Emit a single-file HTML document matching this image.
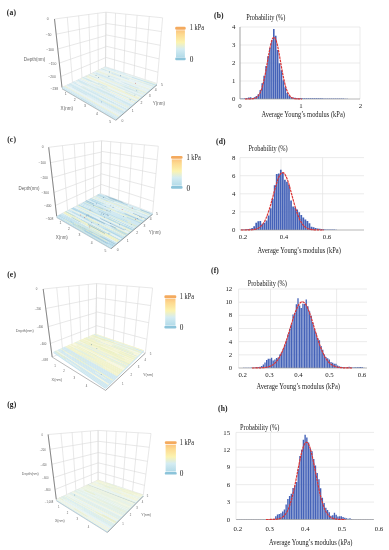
<!DOCTYPE html>
<html><head><meta charset="utf-8"><style>
html,body{margin:0;padding:0;background:#fff;}
body{width:389px;height:550px;overflow:hidden;}
svg{display:block;filter:blur(0.45px);}
</style></head><body>
<svg width="389" height="550" viewBox="0 0 389 550">
<rect width="389" height="550" fill="#fff"/>
<text x="6.8" y="14.8" font-family="Liberation Serif, Times New Roman, serif" font-weight="bold" font-size="7.6" letter-spacing="0.15" fill="#1a1a1a">(a)</text>
<path d="M54.5,19L62,87.5 M67.32,17.31L72.51,82.5 M78.66,15.81L81.98,77.99 M88.77,14.48L90.56,73.91 M97.83,13.28L98.37,70.2 M106,12.2L105.5,66.8 M54.5,19L106,12.2 M56.16,34.2L105.89,23.95 M57.78,49L105.79,35.58 M59.33,63.1L105.68,46.85 M60.8,76.5L105.58,57.74 M62,87.5L105.5,66.8 M106,12.2L105.5,66.8 M115.54,13.14L114.3,69.66 M125.86,14.17L123.77,72.73 M137.07,15.27L133.98,76.04 M149.26,16.48L145.02,79.62 M162.6,17.8L157,83.5 M106,12.2L162.6,17.8 M105.9,23.43L161.43,31.5 M105.79,34.83L160.26,45.29 M105.69,46.13L159.1,58.88 M105.59,57.3L157.96,72.23 M105.5,66.8L157,83.5" stroke="#d9d9d9" stroke-width="0.6" fill="none"/>
<polygon points="62,87.5 115.8,119 116.91,118.04 63.08,86.98" fill="#cde7ef"/>
<polygon points="62.86,87.09 116.69,118.24 117.79,117.29 63.94,86.58" fill="#d9ecf2"/>
<polygon points="63.72,86.68 117.56,117.48 118.65,116.55 64.78,86.18" fill="#d9ecf2"/>
<polygon points="64.57,86.28 118.43,116.74 119.5,115.81 65.62,85.78" fill="#eef1d4"/>
<polygon points="65.41,85.88 119.28,116 120.34,115.08 66.45,85.38" fill="#e6f2f4"/>
<polygon points="66.24,85.48 120.13,115.27 121.18,114.37 67.28,84.99" fill="#e6f2f4"/>
<polygon points="67.07,85.09 120.97,114.55 122,113.66 68.1,84.6" fill="#daecf2"/>
<polygon points="67.89,84.7 121.79,113.84 122.82,112.95 68.91,84.21" fill="#daecf2"/>
<polygon points="68.7,84.31 122.61,113.13 123.62,112.26 69.71,83.83" fill="#cde7ef"/>
<polygon points="69.51,83.93 123.42,112.44 124.42,111.58 70.51,83.45" fill="#cde7ef"/>
<polygon points="70.31,83.55 124.21,111.75 125.2,110.9 71.3,83.07" fill="#dbedf1"/>
<polygon points="71.1,83.17 125,111.07 125.98,110.23 72.09,82.7" fill="#e6f2f4"/>
<polygon points="71.89,82.79 125.78,110.4 126.75,109.56 72.87,82.33" fill="#dbedf1"/>
<polygon points="72.67,82.42 126.55,109.73 127.51,108.91 73.64,81.96" fill="#cde7ef"/>
<polygon points="73.44,82.05 127.32,109.08 128.26,108.26 74.41,81.6" fill="#e6f2f4"/>
<polygon points="74.21,81.69 128.07,108.43 129.01,107.62 75.17,81.23" fill="#dcedf1"/>
<polygon points="74.97,81.33 128.82,107.78 129.74,106.99 75.92,80.88" fill="#eef1d4"/>
<polygon points="75.73,80.97 129.56,107.15 130.47,106.36 76.67,80.52" fill="#dcedf1"/>
<polygon points="76.48,80.61 130.29,106.52 131.19,105.74 77.41,80.17" fill="#dcedf1"/>
<polygon points="77.22,80.26 131.01,105.9 131.9,105.12 78.15,79.82" fill="#cde7ef"/>
<polygon points="77.96,79.91 131.72,105.28 132.61,104.52 78.88,79.47" fill="#cde7ef"/>
<polygon points="78.69,79.56 132.43,104.67 133.31,103.92 79.6,79.12" fill="#e6f2f4"/>
<polygon points="79.42,79.21 133.13,104.07 134,103.32 80.32,78.78" fill="#ddedf1"/>
<polygon points="80.14,78.87 133.82,103.47 134.68,102.73 81.03,78.44" fill="#e6f2f4"/>
<polygon points="80.85,78.53 134.5,102.88 135.35,102.15 81.74,78.11" fill="#eef1d4"/>
<polygon points="81.56,78.19 135.18,102.3 136.02,101.58 82.44,77.77" fill="#e6f2f4"/>
<polygon points="82.27,77.86 135.85,101.72 136.68,101.01 83.14,77.44" fill="#cde7ef"/>
<polygon points="82.96,77.52 136.51,101.15 137.34,100.44 83.83,77.11" fill="#eef1d4"/>
<polygon points="83.66,77.19 137.17,100.59 137.99,99.88 84.52,76.78" fill="#e6f2f4"/>
<polygon points="84.34,76.87 137.82,100.03 138.63,99.33 85.2,76.46" fill="#e6f2f4"/>
<polygon points="85.03,76.54 138.46,99.47 139.26,98.78 85.88,76.14" fill="#eef1d4"/>
<polygon points="85.7,76.22 139.1,98.92 139.89,98.24 86.55,75.82" fill="#eef1d4"/>
<polygon points="86.38,75.9 139.73,98.38 140.51,97.71 87.21,75.5" fill="#eef1d4"/>
<polygon points="87.04,75.58 140.35,97.84 141.13,97.18 87.88,75.19" fill="#e6f2f4"/>
<polygon points="87.71,75.27 140.97,97.31 141.74,96.65 88.53,74.87" fill="#eef1d4"/>
<polygon points="88.36,74.95 141.58,96.78 142.34,96.13 89.18,74.56" fill="#cde7ef"/>
<polygon points="89.02,74.64 142.19,96.26 142.94,95.61 89.83,74.26" fill="#dfeef0"/>
<polygon points="89.66,74.34 142.79,95.75 143.53,95.1 90.47,73.95" fill="#e6f2f4"/>
<polygon points="90.31,74.03 143.38,95.23 144.12,94.6 91.11,73.65" fill="#e0eef0"/>
<polygon points="90.94,73.73 143.97,94.73 144.7,94.1 91.74,73.35" fill="#eef1d4"/>
<polygon points="91.58,73.42 144.55,94.23 145.27,93.6 92.37,73.05" fill="#e0efef"/>
<polygon points="92.21,73.13 145.13,93.73 145.84,93.11 92.99,72.75" fill="#e0efef"/>
<polygon points="92.83,72.83 145.7,93.24 146.41,92.63 93.61,72.46" fill="#cde7ef"/>
<polygon points="93.45,72.53 146.26,92.75 146.97,92.15 94.22,72.17" fill="#e6f2f4"/>
<polygon points="94.07,72.24 146.82,92.27 147.52,91.67 94.83,71.88" fill="#e1efef"/>
<polygon points="94.68,71.95 147.38,91.79 148.07,91.2 95.44,71.59" fill="#e1efef"/>
<polygon points="95.28,71.66 147.93,91.32 148.61,90.73 96.04,71.3" fill="#e1efef"/>
<polygon points="95.89,71.38 148.47,90.85 149.15,90.27 96.64,71.02" fill="#e6f2f4"/>
<polygon points="96.48,71.09 149.01,90.38 149.68,89.81 97.23,70.74" fill="#e1efef"/>
<polygon points="97.08,70.81 149.55,89.92 150.21,89.35 97.82,70.46" fill="#e2efef"/>
<polygon points="97.67,70.53 150.07,89.47 150.73,88.9 98.4,70.18" fill="#eef1d4"/>
<polygon points="98.25,70.25 150.6,89.02 151.25,88.45 98.98,69.9" fill="#e6f2f4"/>
<polygon points="98.83,69.97 151.12,88.57 151.76,88.01 99.56,69.63" fill="#e2efef"/>
<polygon points="99.41,69.7 151.63,88.12 152.27,87.57 100.13,69.36" fill="#e2efef"/>
<polygon points="99.98,69.43 152.14,87.68 152.78,87.14 100.7,69.09" fill="#e6f2f4"/>
<polygon points="100.55,69.15 152.65,87.25 153.28,86.71 101.26,68.82" fill="#e6f2f4"/>
<polygon points="101.12,68.89 153.15,86.82 153.77,86.28 101.82,68.55" fill="#cde7ef"/>
<polygon points="101.68,68.62 153.65,86.39 154.26,85.86 102.38,68.29" fill="#eef1d4"/>
<polygon points="102.23,68.35 154.14,85.97 154.75,85.44 102.93,68.02" fill="#e3f0ee"/>
<polygon points="102.79,68.09 154.63,85.55 155.23,85.02 103.48,67.76" fill="#e6f2f4"/>
<polygon points="103.34,67.83 155.11,85.13 155.71,84.61 104.02,67.5" fill="#cde7ef"/>
<polygon points="103.88,67.57 155.59,84.72 156.18,84.2 104.56,67.25" fill="#e6f2f4"/>
<polygon points="104.43,67.31 156.06,84.31 156.65,83.8 105.1,66.99" fill="#e4f0ee"/>
<polygon points="104.97,67.05 156.53,83.9 157,83.5 105.5,66.8" fill="#e4f0ee"/>
<path d="M95.59,85.23L109.44,91.52" stroke="#cbe5ee" stroke-width="0.71" stroke-linecap="round" opacity="0.76"/>
<path d="M85.93,76.11L86.96,76.55" stroke="#c4e0eb" stroke-width="0.76" stroke-linecap="round" opacity="0.67"/>
<path d="M73.85,81.86L76.49,83.18" stroke="#cbe5ee" stroke-width="0.66" stroke-linecap="round" opacity="0.74"/>
<path d="M110.88,73.12L131.86,80.45" stroke="#eef5f6" stroke-width="0.65" stroke-linecap="round" opacity="0.94"/>
<path d="M145.31,81.26L155.63,84.68" stroke="#cbe5ee" stroke-width="0.71" stroke-linecap="round" opacity="0.82"/>
<path d="M83.15,77.43L98.83,84.33" stroke="#cbe5ee" stroke-width="0.88" stroke-linecap="round" opacity="0.77"/>
<path d="M112.44,74.78L116.28,76.15" stroke="#eef0cf" stroke-width="0.68" stroke-linecap="round" opacity="0.61"/>
<path d="M77.08,83.34L90.3,89.93" stroke="#eef5f6" stroke-width="0.82" stroke-linecap="round" opacity="0.92"/>
<path d="M105.42,72.19L124.06,78.81" stroke="#eef5f6" stroke-width="0.53" stroke-linecap="round" opacity="0.61"/>
<path d="M93.8,105.07L104.49,111.26" stroke="#eef5f6" stroke-width="0.82" stroke-linecap="round" opacity="0.67"/>
<path d="M79.62,81.7L87.11,85.29" stroke="#cbe5ee" stroke-width="0.76" stroke-linecap="round" opacity="0.86"/>
<path d="M105.44,93.84L121.55,101.53" stroke="#eef5f6" stroke-width="0.51" stroke-linecap="round" opacity="0.75"/>
<path d="M86.5,79.12L91.67,81.41" stroke="#cbe5ee" stroke-width="0.89" stroke-linecap="round" opacity="0.77"/>
<path d="M109.81,68.89L119.94,72.21" stroke="#eef5f6" stroke-width="0.79" stroke-linecap="round" opacity="0.66"/>
<path d="M121.6,82.03L138.11,88.24" stroke="#cbe5ee" stroke-width="0.89" stroke-linecap="round" opacity="0.85"/>
<path d="M109.69,77.9L123.79,83.22" stroke="#eef5f6" stroke-width="0.66" stroke-linecap="round" opacity="0.83"/>
<path d="M102.79,91.17L108.41,93.81" stroke="#eef0cf" stroke-width="0.55" stroke-linecap="round" opacity="0.68"/>
<path d="M64.6,86.26L67.71,88.03" stroke="#eef0cf" stroke-width="0.8" stroke-linecap="round" opacity="0.77"/>
<path d="M75.09,81.27L88.57,87.89" stroke="#eef5f6" stroke-width="0.74" stroke-linecap="round" opacity="0.69"/>
<path d="M117.77,73.8L138.11,80.72" stroke="#eef5f6" stroke-width="0.65" stroke-linecap="round" opacity="0.74"/>
<path d="M99.49,95.86L113.83,103.12" stroke="#cbe5ee" stroke-width="0.7" stroke-linecap="round" opacity="0.98"/>
<path d="M99.46,86.26L103.85,88.24" stroke="#c4e0eb" stroke-width="0.86" stroke-linecap="round" opacity="0.61"/>
<path d="M82.07,87.31L104.86,98.87" stroke="#cbe5ee" stroke-width="0.64" stroke-linecap="round" opacity="0.69"/>
<path d="M129.49,86.22L146.36,92.67" stroke="#eef0cf" stroke-width="0.87" stroke-linecap="round" opacity="0.94"/>
<path d="M119.85,88.43L137.25,95.62" stroke="#eef5f6" stroke-width="0.79" stroke-linecap="round" opacity="0.63"/>
<path d="M111.78,104.37L122.67,110.01" stroke="#eef0cf" stroke-width="0.74" stroke-linecap="round" opacity="0.94"/>
<path d="M90.7,83.31L99.64,87.39" stroke="#c4e0eb" stroke-width="0.55" stroke-linecap="round" opacity="0.82"/>
<path d="M67.62,84.83L69.44,85.81" stroke="#cbe5ee" stroke-width="0.83" stroke-linecap="round" opacity="0.74"/>
<path d="M123.93,86.54L137.5,91.9" stroke="#cbe5ee" stroke-width="0.73" stroke-linecap="round" opacity="0.98"/>
<path d="M88.56,82.48L101.8,88.53" stroke="#eef5f6" stroke-width="0.68" stroke-linecap="round" opacity="0.71"/>
<path d="M133.04,83.09L138.1,84.92" stroke="#eef5f6" stroke-width="0.54" stroke-linecap="round" opacity="0.65"/>
<path d="M101.48,68.71L105.93,70.24" stroke="#c4e0eb" stroke-width="0.56" stroke-linecap="round" opacity="0.78"/>
<path d="M96.2,73.28L114.09,80.09" stroke="#c4e0eb" stroke-width="0.86" stroke-linecap="round" opacity="0.75"/>
<path d="M144.04,80.3L155.98,84.22" stroke="#eef0cf" stroke-width="0.78" stroke-linecap="round" opacity="0.73"/>
<path d="M81.95,86.9L86.05,88.97" stroke="#eef0cf" stroke-width="0.79" stroke-linecap="round" opacity="0.73"/>
<path d="M94.44,83.95L99.42,86.19" stroke="#eef0cf" stroke-width="0.89" stroke-linecap="round" opacity="0.99"/>
<path d="M72.62,87.15L86.67,94.73" stroke="#c4e0eb" stroke-width="0.76" stroke-linecap="round" opacity="0.7"/>
<path d="M96.87,78.65L104.83,81.92" stroke="#eef5f6" stroke-width="0.83" stroke-linecap="round" opacity="0.64"/>
<path d="M96.61,71.03L108.75,75.48" stroke="#eef0cf" stroke-width="0.88" stroke-linecap="round" opacity="0.76"/>
<path d="M87.24,84.56L96.59,88.98" stroke="#eef0cf" stroke-width="0.6" stroke-linecap="round" opacity="0.64"/>
<path d="M125.27,87.23L132.19,89.97" stroke="#cbe5ee" stroke-width="0.51" stroke-linecap="round" opacity="0.7"/>
<path d="M85.93,96.73L91.52,99.83" stroke="#eef5f6" stroke-width="0.51" stroke-linecap="round" opacity="0.6"/>
<path d="M107.56,75.13L119.87,79.66" stroke="#cbe5ee" stroke-width="0.54" stroke-linecap="round" opacity="0.91"/>
<path d="M96.84,88.04L114.79,96.43" stroke="#cbe5ee" stroke-width="0.81" stroke-linecap="round" opacity="0.99"/>
<path d="M108.43,73.09L113.91,75.03" stroke="#eef0cf" stroke-width="0.55" stroke-linecap="round" opacity="0.68"/>
<path d="M117.74,87.06L140.9,96.57" stroke="#cbe5ee" stroke-width="0.57" stroke-linecap="round" opacity="0.77"/>
<path d="M99.3,98.61L120.07,109.47" stroke="#eef0cf" stroke-width="0.81" stroke-linecap="round" opacity="0.87"/>
<path d="M98.41,83.24L107.02,86.98" stroke="#c4e0eb" stroke-width="0.84" stroke-linecap="round" opacity="0.78"/>
<path d="M91.89,82.61L100.21,86.34" stroke="#eef5f6" stroke-width="0.82" stroke-linecap="round" opacity="0.97"/>
<path d="M104.69,67.19L115.48,70.73" stroke="#cbe5ee" stroke-width="0.74" stroke-linecap="round" opacity="0.66"/>
<path d="M112.28,69.48L125.69,73.86" stroke="#cbe5ee" stroke-width="0.74" stroke-linecap="round" opacity="0.69"/>
<path d="M81.17,98.22L95.66,106.66" stroke="#c4e0eb" stroke-width="0.87" stroke-linecap="round" opacity="0.86"/>
<path d="M82.66,86.32L99.02,94.49" stroke="#cbe5ee" stroke-width="0.79" stroke-linecap="round" opacity="0.73"/>
<path d="M120.72,85.44L140.58,93.3" stroke="#cbe5ee" stroke-width="0.52" stroke-linecap="round" opacity="0.63"/>
<path d="M125.44,91.8L134.4,95.55" stroke="#cbe5ee" stroke-width="0.62" stroke-linecap="round" opacity="0.88"/>
<path d="M111.77,73.38L128.67,79.28" stroke="#c4e0eb" stroke-width="0.74" stroke-linecap="round" opacity="0.94"/>
<path d="M144.77,83.14L153.83,86.23" stroke="#cbe5ee" stroke-width="0.56" stroke-linecap="round" opacity="0.77"/>
<path d="M132.3,77.37L154.5,84.77" stroke="#c4e0eb" stroke-width="0.77" stroke-linecap="round" opacity="0.89"/>
<path d="M98.06,87.63L105.4,91.02" stroke="#eef5f6" stroke-width="0.71" stroke-linecap="round" opacity="0.64"/>
<path d="M75.26,81.23L90.61,88.74" stroke="#eef5f6" stroke-width="0.88" stroke-linecap="round" opacity="0.66"/>
<polygon points="62,87.5 115.8,119 115.8,120.3 62,88.8" fill="#c3e2ed"/>
<polygon points="115.8,119 157,83.5 157,84.8 115.8,120.3" fill="#c3e2ed"/>
<circle cx="135.64" cy="83.24" r="0.45" fill="#b85a5a"/>
<circle cx="101.49" cy="101.92" r="0.45" fill="#4a7aa8"/>
<circle cx="130.08" cy="99.81" r="0.45" fill="#5f7f9f"/>
<circle cx="120.37" cy="75.72" r="0.45" fill="#5f7f9f"/>
<circle cx="109.57" cy="72.02" r="0.45" fill="#4a7aa8"/>
<circle cx="98.64" cy="77.48" r="0.45" fill="#5f7f9f"/>
<circle cx="136.72" cy="90.29" r="0.45" fill="#7fa8c6"/>
<circle cx="108.95" cy="76.56" r="0.45" fill="#5a88b0"/>
<circle cx="134.92" cy="95.09" r="0.45" fill="#6a8fb0"/>
<circle cx="96.02" cy="75.54" r="0.45" fill="#6a8fb0"/>
<path d="M54.5,19L62,87.5" stroke="#7c7c7c" stroke-width="0.9"/>
<path d="M62,88.8L115.8,120.3" stroke="#9a9a9a" stroke-width="0.6" fill="none"/>
<path d="M115.8,120.3L157,84.8" stroke="#7a7a7a" stroke-width="0.7" fill="none"/>
<text x="47.7" y="19.6" font-family="Liberation Sans, DejaVu Sans, sans-serif" font-size="3.4" fill="#666" text-anchor="middle">0</text>
<text x="48.6" y="35.800000000000004" font-family="Liberation Sans, DejaVu Sans, sans-serif" font-size="3.4" fill="#666" text-anchor="middle">−50</text>
<text x="50" y="50.6" font-family="Liberation Sans, DejaVu Sans, sans-serif" font-size="3.4" fill="#666" text-anchor="middle">−100</text>
<text x="52.5" y="64.7" font-family="Liberation Sans, DejaVu Sans, sans-serif" font-size="3.4" fill="#666" text-anchor="middle">−150</text>
<text x="52" y="78.1" font-family="Liberation Sans, DejaVu Sans, sans-serif" font-size="3.4" fill="#666" text-anchor="middle">−200</text>
<text x="54.3" y="90.3" font-family="Liberation Sans, DejaVu Sans, sans-serif" font-size="3.4" fill="#666" text-anchor="middle">−238</text>
<text x="34.6" y="60.9" font-family="Liberation Sans, DejaVu Sans, sans-serif" font-size="4.55" fill="#666" text-anchor="middle">Depth(nm)</text>
<text x="65.6" y="95.3" font-family="Liberation Sans, DejaVu Sans, sans-serif" font-size="3.4" fill="#666" text-anchor="middle">1</text>
<text x="74.6" y="101.1" font-family="Liberation Sans, DejaVu Sans, sans-serif" font-size="3.4" fill="#666" text-anchor="middle">2</text>
<text x="84.9" y="107.39999999999999" font-family="Liberation Sans, DejaVu Sans, sans-serif" font-size="3.4" fill="#666" text-anchor="middle">3</text>
<text x="97" y="114.6" font-family="Liberation Sans, DejaVu Sans, sans-serif" font-size="3.4" fill="#666" text-anchor="middle">4</text>
<text x="110.2" y="122.5" font-family="Liberation Sans, DejaVu Sans, sans-serif" font-size="3.4" fill="#666" text-anchor="middle">5</text>
<text x="122.5" y="121.5" font-family="Liberation Sans, DejaVu Sans, sans-serif" font-size="3.4" fill="#666" text-anchor="middle">0</text>
<text x="132.6" y="112.1" font-family="Liberation Sans, DejaVu Sans, sans-serif" font-size="3.4" fill="#666" text-anchor="middle">1</text>
<text x="141.4" y="104.1" font-family="Liberation Sans, DejaVu Sans, sans-serif" font-size="3.4" fill="#666" text-anchor="middle">2</text>
<text x="149.7" y="97.39999999999999" font-family="Liberation Sans, DejaVu Sans, sans-serif" font-size="3.4" fill="#666" text-anchor="middle">3</text>
<text x="155.8" y="91.3" font-family="Liberation Sans, DejaVu Sans, sans-serif" font-size="3.4" fill="#666" text-anchor="middle">4</text>
<text x="162" y="85.5" font-family="Liberation Sans, DejaVu Sans, sans-serif" font-size="3.4" fill="#666" text-anchor="middle">5</text>
<text x="66.8" y="109.5" font-family="Liberation Sans, DejaVu Sans, sans-serif" font-size="4.55" fill="#666" text-anchor="middle">X(nm)</text>
<text x="158.9" y="104.5" font-family="Liberation Sans, DejaVu Sans, sans-serif" font-size="4.55" fill="#666" text-anchor="middle">Y(nm)</text>
<defs><linearGradient id="cbga" x1="0" y1="0" x2="0" y2="1"><stop offset="0" stop-color="#fbc57e"/><stop offset="0.15" stop-color="#fdd98f"/><stop offset="0.45" stop-color="#fbf3b0"/><stop offset="0.7" stop-color="#d4ecf2"/><stop offset="1" stop-color="#b3dbe9"/></linearGradient></defs>
<rect x="176" y="30.3" width="8.9" height="26.8" fill="url(#cbga)"/>
<rect x="175.2" y="26.8" width="10.5" height="2.9" rx="1.3" fill="#f4aa5e"/>
<rect x="175.2" y="57.6" width="10.5" height="2.6" rx="1.2" fill="#8cc4da"/>
<text x="189.8" y="30.4" font-family="Liberation Serif, Times New Roman, serif" font-size="7.5" fill="#1a1a1a" textLength="14.2" lengthAdjust="spacingAndGlyphs">1 kPa</text>
<text x="189.8" y="61.5" font-family="Liberation Serif, Times New Roman, serif" font-size="7.3" fill="#1a1a1a">0</text>
<text x="7.2" y="142.29999999999998" font-family="Liberation Serif, Times New Roman, serif" font-weight="bold" font-size="7.6" letter-spacing="0.15" fill="#1a1a1a">(c)</text>
<path d="M48.7,147.3L56.7,216.3 M62.44,145.61L67.64,210.61 M74.27,144.16L77.3,205.58 M84.56,142.89L85.89,201.11 M93.6,141.78L93.58,197.1 M101.6,140.8L100.5,193.5 M48.7,147.3L101.6,140.8 M50.49,162.7L101.36,152.09 M52.22,177.7L101.13,163.33 M53.94,192.5L100.89,174.69 M55.45,205.5L100.68,184.88 M56.7,216.3L100.5,193.5 M101.6,140.8L100.5,193.5 M110.76,141.67L109.04,196.7 M120.84,142.63L118.39,200.19 M132,143.7L128.66,204.04 M144.41,144.88L140,208.29 M158.3,146.2L152.6,213 M101.6,140.8L158.3,146.2 M101.38,151.37L157.14,159.78 M101.15,162.27L155.95,173.7 M100.91,173.67L154.72,188.14 M100.69,184.26L153.58,201.46 M100.5,193.5L152.6,213" stroke="#d9d9d9" stroke-width="0.6" fill="none"/>
<polygon points="56.7,216.3 111,247.5 112.04,246.64 57.74,215.76" fill="#c2e1ed"/>
<polygon points="57.53,215.87 111.83,246.82 112.85,245.96 58.56,215.33" fill="#c2e1ed"/>
<polygon points="58.35,215.44 112.64,246.14 113.66,245.29 59.38,214.91" fill="#aed6e7"/>
<polygon points="59.17,215.01 113.46,245.46 114.47,244.63 60.19,214.48" fill="#aed6e7"/>
<polygon points="59.98,214.59 114.26,244.8 115.26,243.97 61,214.06" fill="#c3e1ed"/>
<polygon points="60.79,214.17 115.06,244.13 116.05,243.31 61.8,213.65" fill="#c3e1ed"/>
<polygon points="61.59,213.75 115.85,243.48 116.83,242.66 62.59,213.23" fill="#c3e2ed"/>
<polygon points="62.39,213.34 116.63,242.83 117.61,242.02 63.38,212.82" fill="#e3f1f4"/>
<polygon points="63.18,212.93 117.41,242.18 118.38,241.38 64.17,212.41" fill="#edf0c6"/>
<polygon points="63.97,212.52 118.18,241.54 119.14,240.75 64.95,212.01" fill="#edf0c6"/>
<polygon points="64.75,212.11 118.95,240.91 119.9,240.12 65.72,211.6" fill="#edf0c6"/>
<polygon points="65.52,211.71 119.71,240.28 120.65,239.5 66.49,211.2" fill="#aed6e7"/>
<polygon points="66.3,211.3 120.46,239.65 121.4,238.88 67.26,210.8" fill="#e3f1f4"/>
<polygon points="67.06,210.91 121.21,239.04 122.14,238.26 68.02,210.41" fill="#e3f1f4"/>
<polygon points="67.82,210.51 121.95,238.42 122.87,237.66 68.77,210.02" fill="#c4e2ed"/>
<polygon points="68.58,210.12 122.68,237.81 123.6,237.05 69.52,209.63" fill="#c4e2ed"/>
<polygon points="69.33,209.73 123.41,237.21 124.32,236.46 70.27,209.24" fill="#c5e2ee"/>
<polygon points="70.08,209.34 124.13,236.61 125.03,235.86 71.01,208.85" fill="#edf0c6"/>
<polygon points="70.82,208.95 124.85,236.01 125.74,235.27 71.74,208.47" fill="#e3f1f4"/>
<polygon points="71.56,208.57 125.56,235.42 126.45,234.69 72.48,208.09" fill="#aed6e7"/>
<polygon points="72.29,208.19 126.27,234.84 127.15,234.11 73.2,207.71" fill="#aed6e7"/>
<polygon points="73.02,207.81 126.97,234.26 127.84,233.54 73.92,207.33" fill="#aed6e7"/>
<polygon points="73.74,207.43 127.66,233.68 128.53,232.96 74.64,206.96" fill="#e3f1f4"/>
<polygon points="74.46,207.06 128.35,233.11 129.21,232.4 75.36,206.59" fill="#e3f1f4"/>
<polygon points="75.17,206.68 129.03,232.54 129.89,231.84 76.06,206.22" fill="#e3f1f4"/>
<polygon points="75.88,206.31 129.71,231.98 130.56,231.28 76.77,205.85" fill="#c6e3ee"/>
<polygon points="76.59,205.95 130.39,231.42 131.22,230.73 77.47,205.49" fill="#e3f1f4"/>
<polygon points="77.29,205.58 131.05,230.87 131.89,230.18 78.16,205.13" fill="#edf0c6"/>
<polygon points="77.99,205.22 131.72,230.32 132.54,229.63 78.86,204.77" fill="#aed6e7"/>
<polygon points="78.68,204.86 132.38,229.77 133.19,229.09 79.54,204.41" fill="#aed6e7"/>
<polygon points="79.37,204.5 133.03,229.23 133.84,228.56 80.23,204.05" fill="#e3f1f4"/>
<polygon points="80.05,204.14 133.68,228.69 134.48,228.03 80.91,203.7" fill="#aed6e7"/>
<polygon points="80.73,203.79 134.32,228.16 135.12,227.5 81.58,203.35" fill="#e3f1f4"/>
<polygon points="81.41,203.44 134.96,227.63 135.75,226.97 82.25,203" fill="#c7e4ee"/>
<polygon points="82.08,203.09 135.59,227.11 136.38,226.45 82.92,202.65" fill="#c7e4ee"/>
<polygon points="82.75,202.74 136.22,226.59 137,225.94 83.58,202.31" fill="#aed6e7"/>
<polygon points="83.41,202.4 136.84,226.07 137.62,225.42 84.24,201.96" fill="#c8e4ee"/>
<polygon points="84.07,202.05 137.46,225.55 138.23,224.92 84.89,201.62" fill="#c8e4ee"/>
<polygon points="84.73,201.71 138.08,225.05 138.84,224.41 85.54,201.29" fill="#c8e4ee"/>
<polygon points="85.38,201.37 138.69,224.54 139.45,223.91 86.19,200.95" fill="#c8e4ee"/>
<polygon points="86.03,201.03 139.29,224.04 140.05,223.41 86.83,200.61" fill="#c8e4ee"/>
<polygon points="86.67,200.7 139.89,223.54 140.64,222.92 87.47,200.28" fill="#c8e4ee"/>
<polygon points="87.31,200.37 140.49,223.04 141.23,222.43 88.11,199.95" fill="#e3f1f4"/>
<polygon points="87.95,200.03 141.08,222.55 141.82,221.94 88.74,199.62" fill="#c9e4ee"/>
<polygon points="88.58,199.7 141.67,222.06 142.4,221.46 89.37,199.29" fill="#c9e4ee"/>
<polygon points="89.21,199.38 142.25,221.58 142.98,220.98 89.99,198.97" fill="#aed6e7"/>
<polygon points="89.83,199.05 142.83,221.1 143.56,220.5 90.61,198.65" fill="#c9e5ee"/>
<polygon points="90.46,198.73 143.41,220.62 144.13,220.03 91.23,198.32" fill="#c9e5ee"/>
<polygon points="91.07,198.41 143.98,220.15 144.69,219.56 91.85,198" fill="#e3f1f4"/>
<polygon points="91.69,198.09 144.55,219.68 145.26,219.09 92.46,197.69" fill="#edf0c6"/>
<polygon points="92.3,197.77 145.11,219.21 145.81,218.63 93.06,197.37" fill="#e3f1f4"/>
<polygon points="92.91,197.45 145.67,218.75 146.37,218.17 93.67,197.06" fill="#cae5ef"/>
<polygon points="93.51,197.14 146.23,218.29 146.92,217.71 94.27,196.75" fill="#e3f1f4"/>
<polygon points="94.11,196.82 146.78,217.83 147.47,217.26 94.86,196.43" fill="#cae5ef"/>
<polygon points="94.71,196.51 147.33,217.37 148.01,216.81 95.46,196.13" fill="#e3f1f4"/>
<polygon points="95.3,196.2 147.87,216.92 148.55,216.36 96.04,195.82" fill="#cbe5ef"/>
<polygon points="95.89,195.9 148.41,216.47 149.08,215.92 96.63,195.51" fill="#cbe5ef"/>
<polygon points="96.48,195.59 148.95,216.03 149.62,215.48 97.21,195.21" fill="#e3f1f4"/>
<polygon points="97.07,195.29 149.48,215.59 150.14,215.04 97.79,194.91" fill="#edf0c6"/>
<polygon points="97.65,194.99 150.01,215.15 150.67,214.6 98.37,194.61" fill="#cbe6ef"/>
<polygon points="98.22,194.69 150.53,214.71 151.19,214.17 98.94,194.31" fill="#cbe6ef"/>
<polygon points="98.8,194.39 151.06,214.28 151.71,213.74 99.51,194.01" fill="#e3f1f4"/>
<polygon points="99.37,194.09 151.57,213.85 152.22,213.32 100.08,193.72" fill="#aed6e7"/>
<polygon points="99.94,193.79 152.09,213.42 152.6,213 100.5,193.5" fill="#e3f1f4"/>
<path d="M91.95,200.66L111.89,209.02" stroke="#a9d2e4" stroke-width="0.81" stroke-linecap="round" opacity="0.79"/>
<path d="M106.91,225.79L125.85,235.18" stroke="#f0f0c0" stroke-width="0.71" stroke-linecap="round" opacity="0.86"/>
<path d="M94,206.01L101.58,209.33" stroke="#f0f0c0" stroke-width="0.65" stroke-linecap="round" opacity="0.87"/>
<path d="M129.72,208.87L141.8,213.59" stroke="#e4f2f6" stroke-width="0.86" stroke-linecap="round" opacity="0.68"/>
<path d="M90.87,198.51L103.6,203.75" stroke="#a9d2e4" stroke-width="0.74" stroke-linecap="round" opacity="0.87"/>
<path d="M129.26,207.39L136.66,210.25" stroke="#a9d2e4" stroke-width="0.6" stroke-linecap="round" opacity="0.68"/>
<path d="M110.83,201.55L128.76,208.56" stroke="#e4f2f6" stroke-width="0.52" stroke-linecap="round" opacity="0.74"/>
<path d="M69.31,209.74L71.3,210.75" stroke="#e4f2f6" stroke-width="0.51" stroke-linecap="round" opacity="0.89"/>
<path d="M64.68,219.61L83.65,230.4" stroke="#e9f1c8" stroke-width="0.79" stroke-linecap="round" opacity="0.81"/>
<path d="M80.08,229.61L101.97,242.17" stroke="#e9f1c8" stroke-width="0.56" stroke-linecap="round" opacity="0.61"/>
<path d="M98.5,219.46L119.17,229.52" stroke="#e4f2f6" stroke-width="0.61" stroke-linecap="round" opacity="0.8"/>
<path d="M93.47,218.86L110.48,227.27" stroke="#e4f2f6" stroke-width="0.86" stroke-linecap="round" opacity="0.9"/>
<path d="M124.65,207.65L139.26,213.4" stroke="#e9f1c8" stroke-width="0.54" stroke-linecap="round" opacity="0.87"/>
<path d="M94.51,196.62L107.95,201.96" stroke="#e9f1c8" stroke-width="0.71" stroke-linecap="round" opacity="0.91"/>
<path d="M90.44,208.79L111.22,218.29" stroke="#a9d2e4" stroke-width="0.6" stroke-linecap="round" opacity="0.84"/>
<path d="M77.2,205.63L86.37,209.95" stroke="#e9f1c8" stroke-width="0.77" stroke-linecap="round" opacity="0.7"/>
<path d="M66.59,214.4L78.12,220.6" stroke="#e9f1c8" stroke-width="0.7" stroke-linecap="round" opacity="0.99"/>
<path d="M143.84,212.28L150.42,214.81" stroke="#d0eaf2" stroke-width="0.53" stroke-linecap="round" opacity="0.63"/>
<path d="M102.91,228.05L122.39,238.05" stroke="#a9d2e4" stroke-width="0.6" stroke-linecap="round" opacity="0.77"/>
<path d="M81.86,203.2L81.77,203.16" stroke="#d0eaf2" stroke-width="0.56" stroke-linecap="round" opacity="0.8"/>
<path d="M61.37,213.96L65.17,216.05" stroke="#e8f4f6" stroke-width="0.59" stroke-linecap="round" opacity="0.69"/>
<path d="M98.53,210.94L108.66,215.51" stroke="#8fb6ca" stroke-width="0.65" stroke-linecap="round" opacity="0.87"/>
<path d="M96.33,200.17L114.6,207.65" stroke="#d0eaf2" stroke-width="0.7" stroke-linecap="round" opacity="0.83"/>
<path d="M73.95,223.04L88.32,231.08" stroke="#e9f1c8" stroke-width="0.87" stroke-linecap="round" opacity="0.87"/>
<path d="M79.85,204.25L96.29,211.79" stroke="#e4f2f6" stroke-width="0.74" stroke-linecap="round" opacity="0.72"/>
<path d="M112.16,198.42L116.34,200" stroke="#8fb6ca" stroke-width="0.66" stroke-linecap="round" opacity="0.64"/>
<path d="M100.52,228.57L120.98,239.22" stroke="#e8f4f6" stroke-width="0.68" stroke-linecap="round" opacity="0.76"/>
<path d="M84.88,206.29L99.13,212.81" stroke="#e4f2f6" stroke-width="0.5" stroke-linecap="round" opacity="0.61"/>
<path d="M102.68,223.56L112.13,228.23" stroke="#d0eaf2" stroke-width="0.58" stroke-linecap="round" opacity="0.83"/>
<path d="M92.8,214.32L112.27,223.6" stroke="#d0eaf2" stroke-width="0.86" stroke-linecap="round" opacity="0.7"/>
<path d="M87.87,226.37L99.41,232.6" stroke="#d0eaf2" stroke-width="0.88" stroke-linecap="round" opacity="0.88"/>
<path d="M85.08,230.98L107.33,243.6" stroke="#8fb6ca" stroke-width="0.78" stroke-linecap="round" opacity="0.72"/>
<path d="M100.82,194.94L110.73,198.7" stroke="#d0eaf2" stroke-width="0.71" stroke-linecap="round" opacity="0.79"/>
<path d="M133.41,207.51L151.11,214.24" stroke="#e8f4f6" stroke-width="0.77" stroke-linecap="round" opacity="0.76"/>
<path d="M88.49,224.72L104.67,233.31" stroke="#8fb6ca" stroke-width="0.77" stroke-linecap="round" opacity="0.97"/>
<path d="M120.29,217.63L127.17,220.65" stroke="#a9d2e4" stroke-width="0.57" stroke-linecap="round" opacity="0.82"/>
<path d="M133.52,213.45L146.01,218.47" stroke="#8fb6ca" stroke-width="0.9" stroke-linecap="round" opacity="0.86"/>
<path d="M72.12,217.55L80.13,221.87" stroke="#8fb6ca" stroke-width="0.85" stroke-linecap="round" opacity="0.73"/>
<path d="M73.89,216.08L80.48,219.56" stroke="#e8f4f6" stroke-width="0.67" stroke-linecap="round" opacity="0.73"/>
<path d="M88.7,219.65L96.27,223.5" stroke="#e9f1c8" stroke-width="0.68" stroke-linecap="round" opacity="0.88"/>
<path d="M123.43,228.24L130.3,231.5" stroke="#f0f0c0" stroke-width="0.79" stroke-linecap="round" opacity="0.79"/>
<path d="M125.08,213.71L138.44,219.27" stroke="#8fb6ca" stroke-width="0.57" stroke-linecap="round" opacity="0.8"/>
<path d="M93.94,210.59L111.95,218.84" stroke="#d0eaf2" stroke-width="0.78" stroke-linecap="round" opacity="0.79"/>
<path d="M109.43,198.13L127.21,204.88" stroke="#8fb6ca" stroke-width="0.53" stroke-linecap="round" opacity="0.93"/>
<path d="M110.39,207.32L118.25,210.58" stroke="#e8f4f6" stroke-width="0.77" stroke-linecap="round" opacity="0.99"/>
<path d="M86.43,200.82L93.7,203.95" stroke="#8fb6ca" stroke-width="0.86" stroke-linecap="round" opacity="0.79"/>
<path d="M65.8,211.56L75.84,216.85" stroke="#e9f1c8" stroke-width="0.79" stroke-linecap="round" opacity="0.84"/>
<path d="M136.28,210.51L143.29,213.23" stroke="#e8f4f6" stroke-width="0.72" stroke-linecap="round" opacity="0.92"/>
<path d="M112.93,230.44L124.54,236.27" stroke="#d0eaf2" stroke-width="0.82" stroke-linecap="round" opacity="0.66"/>
<path d="M100.89,207.99L109.76,211.84" stroke="#f0f0c0" stroke-width="0.57" stroke-linecap="round" opacity="0.89"/>
<path d="M131.57,206.14L143.64,210.71" stroke="#d0eaf2" stroke-width="0.71" stroke-linecap="round" opacity="0.87"/>
<path d="M83.57,227.53L108.59,241.44" stroke="#a9d2e4" stroke-width="0.68" stroke-linecap="round" opacity="0.95"/>
<path d="M125.33,226.12L132.68,229.52" stroke="#a9d2e4" stroke-width="0.57" stroke-linecap="round" opacity="0.9"/>
<path d="M106.3,203.33L123.33,210.24" stroke="#e8f4f6" stroke-width="0.83" stroke-linecap="round" opacity="0.89"/>
<path d="M78.17,225.23L103.65,239.47" stroke="#8fb6ca" stroke-width="0.62" stroke-linecap="round" opacity="0.6"/>
<path d="M128.09,222.44L136.64,226.24" stroke="#f0f0c0" stroke-width="0.84" stroke-linecap="round" opacity="0.83"/>
<path d="M95.21,225.45L110.82,233.56" stroke="#e9f1c8" stroke-width="0.69" stroke-linecap="round" opacity="0.82"/>
<path d="M97.38,195.12L113.98,201.53" stroke="#a9d2e4" stroke-width="0.63" stroke-linecap="round" opacity="0.98"/>
<path d="M98.51,221.15L114.25,228.92" stroke="#e4f2f6" stroke-width="0.7" stroke-linecap="round" opacity="0.68"/>
<path d="M122.48,218.11L130.68,221.69" stroke="#f0f0c0" stroke-width="0.75" stroke-linecap="round" opacity="0.72"/>
<path d="M85.08,218.64L93.7,223.06" stroke="#a9d2e4" stroke-width="0.52" stroke-linecap="round" opacity="0.64"/>
<path d="M122.12,214.36L141.21,222.44" stroke="#e9f1c8" stroke-width="0.63" stroke-linecap="round" opacity="0.63"/>
<path d="M81.77,206.11L93.09,211.35" stroke="#a9d2e4" stroke-width="0.68" stroke-linecap="round" opacity="0.65"/>
<path d="M135.87,218.21L142.82,221.11" stroke="#a9d2e4" stroke-width="0.63" stroke-linecap="round" opacity="0.64"/>
<path d="M72.66,212.03L88.52,220.13" stroke="#a9d2e4" stroke-width="0.57" stroke-linecap="round" opacity="0.66"/>
<path d="M71.18,216.67L85.1,224.14" stroke="#d0eaf2" stroke-width="0.66" stroke-linecap="round" opacity="0.93"/>
<path d="M113.42,226.83L127.6,233.74" stroke="#f0f0c0" stroke-width="0.73" stroke-linecap="round" opacity="0.89"/>
<path d="M86.37,214.74L104.5,223.65" stroke="#8fb6ca" stroke-width="0.87" stroke-linecap="round" opacity="0.9"/>
<path d="M108.24,197.1L123.36,202.8" stroke="#8fb6ca" stroke-width="0.53" stroke-linecap="round" opacity="0.72"/>
<path d="M87.06,207.37L107.77,216.85" stroke="#d0eaf2" stroke-width="0.69" stroke-linecap="round" opacity="0.96"/>
<path d="M111.21,234.88L119.57,239.26" stroke="#e4f2f6" stroke-width="0.54" stroke-linecap="round" opacity="0.67"/>
<path d="M100.58,236.21L115,244.18" stroke="#8fb6ca" stroke-width="0.67" stroke-linecap="round" opacity="0.82"/>
<path d="M105.8,229.03L119.95,236.26" stroke="#a9d2e4" stroke-width="0.69" stroke-linecap="round" opacity="0.96"/>
<path d="M78.97,209.21L91.51,215.28" stroke="#e9f1c8" stroke-width="0.81" stroke-linecap="round" opacity="0.73"/>
<path d="M75.79,218.81L81.35,221.78" stroke="#e9f1c8" stroke-width="0.6" stroke-linecap="round" opacity="0.7"/>
<path d="M96.1,205.98L106.87,210.66" stroke="#e8f4f6" stroke-width="0.74" stroke-linecap="round" opacity="0.94"/>
<path d="M65.8,211.56L75.08,216.44" stroke="#a9d2e4" stroke-width="0.55" stroke-linecap="round" opacity="0.81"/>
<path d="M105.46,200.72L123.85,208" stroke="#f0f0c0" stroke-width="0.88" stroke-linecap="round" opacity="0.69"/>
<path d="M92.71,233.35L108.94,242.42" stroke="#e8f4f6" stroke-width="0.63" stroke-linecap="round" opacity="0.94"/>
<path d="M108.08,211.76L123.66,218.56" stroke="#d0eaf2" stroke-width="0.9" stroke-linecap="round" opacity="0.94"/>
<path d="M93.06,211.46L107.29,218.06" stroke="#e4f2f6" stroke-width="0.85" stroke-linecap="round" opacity="0.78"/>
<path d="M85.42,202.11L105.3,210.82" stroke="#f0f0c0" stroke-width="0.87" stroke-linecap="round" opacity="0.63"/>
<path d="M106.95,225.67L111.92,228.13" stroke="#e4f2f6" stroke-width="0.77" stroke-linecap="round" opacity="0.69"/>
<path d="M73.01,224.12L97.4,237.95" stroke="#a9d2e4" stroke-width="0.89" stroke-linecap="round" opacity="0.86"/>
<path d="M100.41,237.95L111.42,244.11" stroke="#d0eaf2" stroke-width="0.56" stroke-linecap="round" opacity="0.61"/>
<path d="M109.68,208.25L114.8,210.4" stroke="#f0f0c0" stroke-width="0.87" stroke-linecap="round" opacity="0.93"/>
<path d="M110,216.01L134.31,226.96" stroke="#e9f1c8" stroke-width="0.65" stroke-linecap="round" opacity="0.6"/>
<path d="M88.97,205.8L101.11,211.23" stroke="#e8f4f6" stroke-width="0.52" stroke-linecap="round" opacity="0.69"/>
<path d="M100.5,218.63L123.95,229.87" stroke="#8fb6ca" stroke-width="0.71" stroke-linecap="round" opacity="0.91"/>
<path d="M107.28,208.08L128.65,217.12" stroke="#e9f1c8" stroke-width="0.75" stroke-linecap="round" opacity="0.68"/>
<path d="M84.12,210.87L95.89,216.51" stroke="#d0eaf2" stroke-width="0.55" stroke-linecap="round" opacity="0.73"/>
<path d="M71.67,208.51L76.79,211.05" stroke="#a9d2e4" stroke-width="0.61" stroke-linecap="round" opacity="0.91"/>
<path d="M105.68,195.87L121.96,201.99" stroke="#8fb6ca" stroke-width="0.72" stroke-linecap="round" opacity="0.64"/>
<path d="M117.17,215.52L126.42,219.56" stroke="#d0eaf2" stroke-width="0.73" stroke-linecap="round" opacity="0.86"/>
<path d="M117.58,214.64L138.14,223.52" stroke="#d0eaf2" stroke-width="0.72" stroke-linecap="round" opacity="0.89"/>
<path d="M100.85,198.32L107,200.75" stroke="#a9d2e4" stroke-width="0.52" stroke-linecap="round" opacity="0.68"/>
<path d="M88.17,227.42L104.59,236.35" stroke="#e9f1c8" stroke-width="0.81" stroke-linecap="round" opacity="0.64"/>
<path d="M127.24,216.02L141.64,222.09" stroke="#e9f1c8" stroke-width="0.56" stroke-linecap="round" opacity="0.73"/>
<path d="M131.19,211.94L146.49,218.07" stroke="#e4f2f6" stroke-width="0.67" stroke-linecap="round" opacity="0.77"/>
<path d="M106.29,205.83L123.41,212.95" stroke="#e4f2f6" stroke-width="0.75" stroke-linecap="round" opacity="0.89"/>
<path d="M98.47,194.56L105.11,197.09" stroke="#a9d2e4" stroke-width="0.72" stroke-linecap="round" opacity="0.76"/>
<path d="M124.12,222.25L133.92,226.65" stroke="#e8f4f6" stroke-width="0.55" stroke-linecap="round" opacity="0.67"/>
<path d="M134.42,211.01L148.39,216.49" stroke="#d0eaf2" stroke-width="0.69" stroke-linecap="round" opacity="0.7"/>
<path d="M83.95,220.36L91.85,224.49" stroke="#d0eaf2" stroke-width="0.84" stroke-linecap="round" opacity="0.74"/>
<path d="M72.61,221.13L88.73,230.06" stroke="#d0eaf2" stroke-width="0.59" stroke-linecap="round" opacity="0.85"/>
<path d="M127.13,217.24L140.58,222.97" stroke="#a9d2e4" stroke-width="0.85" stroke-linecap="round" opacity="0.81"/>
<path d="M93.93,196.92L110.99,203.74" stroke="#e4f2f6" stroke-width="0.58" stroke-linecap="round" opacity="0.73"/>
<path d="M79.51,211.44L96.72,219.91" stroke="#a9d2e4" stroke-width="0.83" stroke-linecap="round" opacity="0.63"/>
<path d="M109.41,218.26L120.14,223.19" stroke="#f0f0c0" stroke-width="0.55" stroke-linecap="round" opacity="0.66"/>
<path d="M97.81,206.88L102.92,209.1" stroke="#f0f0c0" stroke-width="0.68" stroke-linecap="round" opacity="0.71"/>
<path d="M78.59,223.75L99.15,235.08" stroke="#e9f1c8" stroke-width="0.56" stroke-linecap="round" opacity="0.72"/>
<path d="M140.77,209.91L150.24,213.5" stroke="#8fb6ca" stroke-width="0.87" stroke-linecap="round" opacity="0.73"/>
<path d="M98.96,207.01L110.65,212.07" stroke="#8fb6ca" stroke-width="0.59" stroke-linecap="round" opacity="0.62"/>
<path d="M89.36,200.87L103.75,206.99" stroke="#d0eaf2" stroke-width="0.83" stroke-linecap="round" opacity="0.65"/>
<path d="M92.29,211.05L115.58,221.84" stroke="#a9d2e4" stroke-width="0.59" stroke-linecap="round" opacity="0.69"/>
<path d="M118.07,219.18L124.85,222.22" stroke="#f0f0c0" stroke-width="0.77" stroke-linecap="round" opacity="0.62"/>
<path d="M103.13,205.05L116.96,210.83" stroke="#e4f2f6" stroke-width="0.65" stroke-linecap="round" opacity="0.74"/>
<path d="M116.51,201.52L121.88,203.58" stroke="#d0eaf2" stroke-width="0.79" stroke-linecap="round" opacity="0.69"/>
<path d="M75.56,225.57L82.21,229.35" stroke="#e9f1c8" stroke-width="0.58" stroke-linecap="round" opacity="0.7"/>
<path d="M61.19,216.05L69.77,220.86" stroke="#e8f4f6" stroke-width="0.54" stroke-linecap="round" opacity="0.82"/>
<path d="M88.93,229.17L103.14,236.99" stroke="#e9f1c8" stroke-width="0.51" stroke-linecap="round" opacity="0.8"/>
<path d="M70.2,209.27L80.71,214.56" stroke="#e8f4f6" stroke-width="0.64" stroke-linecap="round" opacity="0.97"/>
<path d="M85.54,201.58L102.75,209.07" stroke="#a9d2e4" stroke-width="0.82" stroke-linecap="round" opacity="0.98"/>
<path d="M88.16,217.94L97.89,222.82" stroke="#f0f0c0" stroke-width="0.89" stroke-linecap="round" opacity="0.61"/>
<path d="M110.89,225.7L115.93,228.16" stroke="#8fb6ca" stroke-width="0.89" stroke-linecap="round" opacity="0.81"/>
<path d="M86.63,230.17L106.77,241.45" stroke="#f0f0c0" stroke-width="0.74" stroke-linecap="round" opacity="0.77"/>
<path d="M111.66,221.87L120.04,225.82" stroke="#e4f2f6" stroke-width="0.51" stroke-linecap="round" opacity="0.9"/>
<path d="M101.3,203.79L108.49,206.78" stroke="#e4f2f6" stroke-width="0.86" stroke-linecap="round" opacity="0.62"/>
<path d="M103.59,227.33L123.25,237.34" stroke="#d0eaf2" stroke-width="0.53" stroke-linecap="round" opacity="0.74"/>
<path d="M138.77,210.53L149.14,214.51" stroke="#f0f0c0" stroke-width="0.58" stroke-linecap="round" opacity="0.6"/>
<polygon points="56.7,216.3 111,247.5 111,248.8 56.7,217.6" fill="#b5dae8"/>
<polygon points="111,247.5 152.6,213 152.6,214.3 111,248.8" fill="#b5dae8"/>
<circle cx="101.72" cy="213.33" r="0.45" fill="#7fa8c6"/>
<circle cx="98.39" cy="224.54" r="0.45" fill="#6a8fb0"/>
<circle cx="107.8" cy="214.93" r="0.45" fill="#5f7f9f"/>
<circle cx="113.05" cy="207.26" r="0.45" fill="#4a7aa8"/>
<circle cx="101.09" cy="214.75" r="0.45" fill="#7fa8c6"/>
<circle cx="103.67" cy="197.64" r="0.45" fill="#4a7aa8"/>
<circle cx="104.35" cy="217.12" r="0.45" fill="#5f7f9f"/>
<circle cx="122.15" cy="209.56" r="0.45" fill="#b85a5a"/>
<circle cx="103.34" cy="214.26" r="0.45" fill="#4a7aa8"/>
<circle cx="108.68" cy="233.89" r="0.45" fill="#7fa8c6"/>
<circle cx="132.26" cy="208.01" r="0.45" fill="#b85a5a"/>
<circle cx="106.93" cy="210.4" r="0.45" fill="#5f7f9f"/>
<circle cx="91.76" cy="222.82" r="0.45" fill="#5f7f9f"/>
<circle cx="84.36" cy="217.5" r="0.45" fill="#b85a5a"/>
<circle cx="139.65" cy="216.65" r="0.45" fill="#6a8fb0"/>
<circle cx="119.42" cy="224.76" r="0.45" fill="#5a88b0"/>
<circle cx="131.29" cy="224.58" r="0.45" fill="#6a8fb0"/>
<circle cx="86.23" cy="216.04" r="0.45" fill="#5f7f9f"/>
<circle cx="110.7" cy="223.55" r="0.45" fill="#6a8fb0"/>
<circle cx="110.34" cy="210.58" r="0.45" fill="#6a8fb0"/>
<circle cx="109.02" cy="233.29" r="0.45" fill="#7fa8c6"/>
<circle cx="137.44" cy="218.38" r="0.45" fill="#5f7f9f"/>
<circle cx="96.35" cy="203.83" r="0.45" fill="#4a7aa8"/>
<circle cx="123.37" cy="216.58" r="0.45" fill="#5f7f9f"/>
<circle cx="93.44" cy="205.75" r="0.45" fill="#6a8fb0"/>
<circle cx="89.73" cy="226.88" r="0.45" fill="#b85a5a"/>
<circle cx="125.06" cy="229.16" r="0.45" fill="#6a8fb0"/>
<circle cx="135.39" cy="219.3" r="0.45" fill="#b85a5a"/>
<circle cx="110.8" cy="205.78" r="0.45" fill="#7fa8c6"/>
<circle cx="80.69" cy="214.98" r="0.45" fill="#b85a5a"/>
<circle cx="90.03" cy="209.99" r="0.45" fill="#b85a5a"/>
<circle cx="141.11" cy="217.76" r="0.45" fill="#5f7f9f"/>
<circle cx="88.1" cy="215.04" r="0.45" fill="#5f7f9f"/>
<circle cx="105.15" cy="206.46" r="0.45" fill="#7fa8c6"/>
<path d="M48.7,147.3L56.7,216.3" stroke="#7c7c7c" stroke-width="0.9"/>
<path d="M56.7,217.6L111,248.8" stroke="#a8b4b8" stroke-width="0.6" fill="none"/>
<path d="M111,248.8L152.6,214.3" stroke="#7a7a7a" stroke-width="0.7" fill="none"/>
<text x="42.8" y="148.1" font-family="Liberation Sans, DejaVu Sans, sans-serif" font-size="3.33" fill="#666" text-anchor="middle">0</text>
<text x="42.2" y="164.29999999999998" font-family="Liberation Sans, DejaVu Sans, sans-serif" font-size="3.33" fill="#666" text-anchor="middle">−100</text>
<text x="44.2" y="179.29999999999998" font-family="Liberation Sans, DejaVu Sans, sans-serif" font-size="3.33" fill="#666" text-anchor="middle">−200</text>
<text x="45.3" y="194.1" font-family="Liberation Sans, DejaVu Sans, sans-serif" font-size="3.33" fill="#666" text-anchor="middle">−300</text>
<text x="47.7" y="207.1" font-family="Liberation Sans, DejaVu Sans, sans-serif" font-size="3.33" fill="#666" text-anchor="middle">−400</text>
<text x="49.5" y="219.5" font-family="Liberation Sans, DejaVu Sans, sans-serif" font-size="3.33" fill="#666" text-anchor="middle">−508</text>
<text x="29" y="190.0" font-family="Liberation Sans, DejaVu Sans, sans-serif" font-size="4.46" fill="#666" text-anchor="middle">Depth(nm)</text>
<text x="60.5" y="224.1" font-family="Liberation Sans, DejaVu Sans, sans-serif" font-size="3.33" fill="#666" text-anchor="middle">1</text>
<text x="69" y="230.1" font-family="Liberation Sans, DejaVu Sans, sans-serif" font-size="3.33" fill="#666" text-anchor="middle">2</text>
<text x="79.4" y="236.4" font-family="Liberation Sans, DejaVu Sans, sans-serif" font-size="3.33" fill="#666" text-anchor="middle">3</text>
<text x="91.7" y="244.1" font-family="Liberation Sans, DejaVu Sans, sans-serif" font-size="3.33" fill="#666" text-anchor="middle">4</text>
<text x="105.4" y="251.5" font-family="Liberation Sans, DejaVu Sans, sans-serif" font-size="3.33" fill="#666" text-anchor="middle">5</text>
<text x="117.8" y="250.9" font-family="Liberation Sans, DejaVu Sans, sans-serif" font-size="3.33" fill="#666" text-anchor="middle">0</text>
<text x="127.7" y="241.6" font-family="Liberation Sans, DejaVu Sans, sans-serif" font-size="3.33" fill="#666" text-anchor="middle">1</text>
<text x="137.3" y="233.6" font-family="Liberation Sans, DejaVu Sans, sans-serif" font-size="3.33" fill="#666" text-anchor="middle">2</text>
<text x="144.5" y="226.79999999999998" font-family="Liberation Sans, DejaVu Sans, sans-serif" font-size="3.33" fill="#666" text-anchor="middle">3</text>
<text x="150.7" y="220.2" font-family="Liberation Sans, DejaVu Sans, sans-serif" font-size="3.33" fill="#666" text-anchor="middle">4</text>
<text x="156.9" y="214.5" font-family="Liberation Sans, DejaVu Sans, sans-serif" font-size="3.33" fill="#666" text-anchor="middle">5</text>
<text x="61.8" y="238.5" font-family="Liberation Sans, DejaVu Sans, sans-serif" font-size="4.46" fill="#666" text-anchor="middle">X(nm)</text>
<text x="154.8" y="234.0" font-family="Liberation Sans, DejaVu Sans, sans-serif" font-size="4.46" fill="#666" text-anchor="middle">Y(nm)</text>
<defs><linearGradient id="cbgc" x1="0" y1="0" x2="0" y2="1"><stop offset="0" stop-color="#fbc57e"/><stop offset="0.15" stop-color="#fdd98f"/><stop offset="0.45" stop-color="#fbf3b0"/><stop offset="0.7" stop-color="#d4ecf2"/><stop offset="1" stop-color="#b3dbe9"/></linearGradient></defs>
<rect x="171.8" y="159.4" width="10" height="26.2" fill="url(#cbgc)"/>
<rect x="171" y="155.9" width="11.6" height="2.9" rx="1.3" fill="#f4aa5e"/>
<rect x="171" y="186.1" width="11.6" height="2.6" rx="1.2" fill="#8cc4da"/>
<text x="186.5" y="159.7" font-family="Liberation Serif, Times New Roman, serif" font-size="7.5" fill="#1a1a1a" textLength="14.2" lengthAdjust="spacingAndGlyphs">1 kPa</text>
<text x="186.5" y="190.89999999999998" font-family="Liberation Serif, Times New Roman, serif" font-size="7.3" fill="#1a1a1a">0</text>
<text x="7.2" y="276.7" font-family="Liberation Serif, Times New Roman, serif" font-weight="bold" font-size="7.6" letter-spacing="0.15" fill="#1a1a1a">(e)</text>
<path d="M43.2,289L52.2,357.1 M56.72,287.63L62.83,352.25 M68.56,286.44L72.35,347.9 M79,285.38L80.94,343.98 M88.29,284.44L88.72,340.43 M96.6,283.6L95.8,337.2 M43.2,289L96.6,283.6 M45.78,308.5L96.38,298.4 M48.18,326.7L96.17,312.6 M50.4,343.5L95.97,326.06 M52.2,357.1L95.8,337.2 M96.6,283.6L95.8,337.2 M105.91,284.33L104.19,339.91 M116.03,285.13L113.24,342.84 M127.1,286L123.04,346.01 M139.23,286.95L133.69,349.45 M152.6,288L145.3,353.2 M96.6,283.6L152.6,288 M96.39,297.76L150.64,305.52 M96.18,311.79L148.72,322.67 M95.97,325.51L146.86,339.23 M95.8,337.2L145.3,353.2" stroke="#d9d9d9" stroke-width="0.6" fill="none"/>
<polygon points="53.5,351.7 105.6,387.6 106.75,386.48 54.6,351.22" fill="#d0e8f0"/>
<polygon points="54.38,351.32 106.52,386.71 107.65,385.61 55.46,350.85" fill="#d0e8f0"/>
<polygon points="55.24,350.94 107.42,385.83 108.53,384.74 56.32,350.48" fill="#d0e8f0"/>
<polygon points="56.1,350.57 108.31,384.96 109.4,383.9 57.16,350.11" fill="#f6f6de"/>
<polygon points="56.95,350.2 109.18,384.11 110.26,383.07 58,349.75" fill="#d0e8f0"/>
<polygon points="57.78,349.84 110.04,383.28 111.1,382.25 58.82,349.39" fill="#d0e8f0"/>
<polygon points="58.61,349.48 110.88,382.46 111.92,381.44 59.64,349.03" fill="#d0e8f0"/>
<polygon points="59.43,349.12 111.71,381.65 112.74,380.65 60.45,348.68" fill="#d0e8f0"/>
<polygon points="60.25,348.77 112.53,380.85 113.54,379.87 61.25,348.33" fill="#f1f2c9"/>
<polygon points="61.05,348.42 113.33,380.07 114.33,379.1 62.05,347.99" fill="#d0e8f0"/>
<polygon points="61.85,348.08 114.13,379.3 115.1,378.34 62.83,347.65" fill="#d0e8f0"/>
<polygon points="62.63,347.74 114.91,378.54 115.87,377.6 63.61,347.31" fill="#d0e8f0"/>
<polygon points="63.41,347.4 115.67,377.79 116.62,376.87 64.38,346.98" fill="#d0e8f0"/>
<polygon points="64.18,347.06 116.43,377.05 117.36,376.15 65.14,346.65" fill="#d0e8f0"/>
<polygon points="64.95,346.73 117.17,376.33 118.09,375.43 65.89,346.32" fill="#f1f2c9"/>
<polygon points="65.7,346.4 117.91,375.62 118.81,374.73 66.64,346" fill="#f1f2c9"/>
<polygon points="66.45,346.08 118.63,374.91 119.52,374.04 67.38,345.68" fill="#f1f2c9"/>
<polygon points="67.19,345.76 119.34,374.22 120.22,373.37 68.11,345.36" fill="#f1f2c9"/>
<polygon points="67.92,345.44 120.04,373.54 120.9,372.7 68.83,345.05" fill="#f1f2c9"/>
<polygon points="68.65,345.13 120.73,372.87 121.58,372.04 69.55,344.73" fill="#f1f2c9"/>
<polygon points="69.37,344.81 121.41,372.2 122.25,371.39 70.26,344.43" fill="#f1f2c9"/>
<polygon points="70.08,344.5 122.08,371.55 122.91,370.74 70.96,344.12" fill="#f1f2c9"/>
<polygon points="70.78,344.2 122.74,370.91 123.56,370.11 71.66,343.82" fill="#f1f2c9"/>
<polygon points="71.48,343.9 123.39,370.27 124.2,369.49 72.34,343.52" fill="#f6f6de"/>
<polygon points="72.17,343.6 124.03,369.65 124.83,368.88 73.03,343.22" fill="#f6f6de"/>
<polygon points="72.85,343.3 124.67,369.03 125.45,368.27 73.7,342.93" fill="#f6f6de"/>
<polygon points="73.53,343.01 125.29,368.42 126.06,367.67 74.37,342.64" fill="#f1f2c9"/>
<polygon points="74.2,342.71 125.91,367.82 126.67,367.08 75.04,342.35" fill="#f1f2c9"/>
<polygon points="74.87,342.43 126.51,367.23 127.26,366.5 75.69,342.07" fill="#f1f2c9"/>
<polygon points="75.52,342.14 127.11,366.65 127.85,365.93 76.34,341.78" fill="#d6ebf1"/>
<polygon points="76.18,341.86 127.7,366.08 128.43,365.36 76.99,341.51" fill="#f1f2c9"/>
<polygon points="76.82,341.58 128.28,365.51 129.01,364.81 77.63,341.23" fill="#f1f2c9"/>
<polygon points="77.46,341.3 128.86,364.95 129.57,364.26 78.26,340.95" fill="#d6ebf1"/>
<polygon points="78.1,341.02 129.43,364.4 130.13,363.71 78.89,340.68" fill="#f1f2c9"/>
<polygon points="78.73,340.75 129.99,363.85 130.68,363.18 79.51,340.41" fill="#f1f2c9"/>
<polygon points="79.35,340.48 130.54,363.31 131.22,362.65 80.12,340.14" fill="#f1f2c9"/>
<polygon points="79.96,340.21 131.08,362.78 131.76,362.13 80.73,339.88" fill="#f1f2c9"/>
<polygon points="80.58,339.95 131.62,362.26 132.29,361.61 81.34,339.62" fill="#f1f2c9"/>
<polygon points="81.18,339.68 132.15,361.74 132.81,361.1 81.93,339.36" fill="#f1f2c9"/>
<polygon points="81.78,339.42 132.68,361.23 133.33,360.6 82.53,339.1" fill="#f1f2c9"/>
<polygon points="82.38,339.17 133.19,360.73 133.83,360.1 83.12,338.85" fill="#f1f2c9"/>
<polygon points="82.97,338.91 133.7,360.23 134.34,359.61 83.7,338.59" fill="#f6f6de"/>
<polygon points="83.55,338.66 134.21,359.74 134.83,359.13 84.28,338.34" fill="#f1f2c9"/>
<polygon points="84.13,338.41 134.71,359.25 135.32,358.65 84.85,338.09" fill="#f1f2c9"/>
<polygon points="84.7,338.16 135.2,358.77 135.81,358.18 85.42,337.85" fill="#f1f2c9"/>
<polygon points="85.27,337.91 135.69,358.3 136.29,357.71 85.98,337.6" fill="#f1f2c9"/>
<polygon points="85.83,337.67 136.17,357.83 136.76,357.25 86.54,337.36" fill="#f1f2c9"/>
<polygon points="86.39,337.42 136.64,357.37 137.23,356.8 87.09,337.12" fill="#f6f6de"/>
<polygon points="86.95,337.18 137.11,356.91 137.69,356.35 87.64,336.88" fill="#f1f2c9"/>
<polygon points="87.5,336.94 137.57,356.46 138.14,355.91 88.18,336.65" fill="#d3e3e6"/>
<polygon points="88.04,336.71 138.03,356.02 138.6,355.47 88.72,336.41" fill="#f6f6de"/>
<polygon points="88.58,336.47 138.48,355.58 139.04,355.03 89.25,336.18" fill="#f1f2c9"/>
<polygon points="89.12,336.24 138.93,355.14 139.48,354.6 89.78,335.95" fill="#f6f6de"/>
<polygon points="89.65,336.01 139.37,354.71 139.91,354.18 90.31,335.72" fill="#f1f2c9"/>
<polygon points="90.17,335.78 139.8,354.29 140.34,353.76 90.83,335.5" fill="#f1f2c9"/>
<polygon points="90.69,335.56 140.24,353.87 140.77,353.35 91.34,335.27" fill="#f6f6de"/>
<polygon points="91.21,335.33 140.66,353.45 141.19,352.94 91.86,335.05" fill="#d6ebf1"/>
<polygon points="91.73,335.11 141.08,353.04 141.6,352.54 92.36,334.83" fill="#f1f2c9"/>
<polygon points="92.23,334.89 141.5,352.64 142.01,352.14 92.87,334.61" fill="#f1f2c9"/>
<polygon points="92.74,334.67 141.91,352.24 142.42,351.74 93.37,334.4" fill="#f6f6de"/>
<polygon points="93.24,334.45 142.32,351.84 142.82,351.35 93.86,334.18" fill="#c9e5ef"/>
<polygon points="93.74,334.24 142.72,351.45 143.22,350.96 94.35,333.97" fill="#c9e5ef"/>
<polygon points="94.23,334.02 143.12,351.06 143.61,350.58 94.84,333.76" fill="#f1f2c9"/>
<polygon points="94.72,333.81 143.51,350.68 143.9,350.3 95.2,333.6" fill="#f1f2c9"/>
<path d="M69.24,344.87L80.04,350.57" stroke="#f8f8e4" stroke-width="0.88" stroke-linecap="round" opacity="0.99"/>
<path d="M74.48,348.48L89.34,356.43" stroke="#dcefe9" stroke-width="0.63" stroke-linecap="round" opacity="0.98"/>
<path d="M102.71,338.93L114.07,343.04" stroke="#e9efc0" stroke-width="0.65" stroke-linecap="round" opacity="0.95"/>
<path d="M84.56,338.3L102.7,345.74" stroke="#e9efc0" stroke-width="0.61" stroke-linecap="round" opacity="0.85"/>
<path d="M125.25,353.58L136.07,357.93" stroke="#dcefe9" stroke-width="0.71" stroke-linecap="round" opacity="0.82"/>
<path d="M66.06,359.54L80.29,369.24" stroke="#f8f8e4" stroke-width="0.65" stroke-linecap="round" opacity="0.84"/>
<path d="M83.13,362.27L94.55,369.22" stroke="#dcefe9" stroke-width="0.77" stroke-linecap="round" opacity="0.74"/>
<path d="M113.48,349.18L118.38,351.16" stroke="#f8f8e4" stroke-width="0.88" stroke-linecap="round" opacity="0.61"/>
<path d="M94.39,355.05L104.89,360.34" stroke="#e9efc0" stroke-width="0.63" stroke-linecap="round" opacity="0.75"/>
<path d="M79.77,350.28L93.98,357.76" stroke="#dcefe9" stroke-width="0.81" stroke-linecap="round" opacity="0.64"/>
<path d="M130.49,351.92L138.94,355.13" stroke="#f8f8e4" stroke-width="0.62" stroke-linecap="round" opacity="0.69"/>
<path d="M94.01,338.35L100.08,340.66" stroke="#dcefe9" stroke-width="0.76" stroke-linecap="round" opacity="0.64"/>
<path d="M122.13,357.09L132.39,361.51" stroke="#f8f8e4" stroke-width="0.68" stroke-linecap="round" opacity="0.94"/>
<path d="M71.41,353.05L86.27,361.83" stroke="#e9efc0" stroke-width="0.68" stroke-linecap="round" opacity="0.69"/>
<path d="M77.34,359.52L84.92,364.19" stroke="#e9efc0" stroke-width="0.57" stroke-linecap="round" opacity="0.71"/>
<path d="M111.89,345.05L133.43,353.26" stroke="#dcefe9" stroke-width="0.74" stroke-linecap="round" opacity="0.77"/>
<path d="M112.93,356.76L129.53,364.3" stroke="#e9efc0" stroke-width="0.67" stroke-linecap="round" opacity="0.77"/>
<path d="M112.93,362.18L122.34,366.79" stroke="#f8f8e4" stroke-width="0.69" stroke-linecap="round" opacity="0.93"/>
<path d="M99.03,346.32L113.75,352.57" stroke="#e9efc0" stroke-width="0.59" stroke-linecap="round" opacity="0.9"/>
<path d="M113.9,344.86L128.95,350.49" stroke="#dcefe9" stroke-width="0.72" stroke-linecap="round" opacity="0.96"/>
<path d="M125.16,348.22L140.29,353.81" stroke="#f8f8e4" stroke-width="0.82" stroke-linecap="round" opacity="0.62"/>
<path d="M117.56,344.09L141.43,352.71" stroke="#dcefe9" stroke-width="0.73" stroke-linecap="round" opacity="0.61"/>
<path d="M89.42,338.29L96.99,341.28" stroke="#e9efc0" stroke-width="0.51" stroke-linecap="round" opacity="0.81"/>
<path d="M95.01,375.67L103.62,381.31" stroke="#f8f8e4" stroke-width="0.6" stroke-linecap="round" opacity="0.94"/>
<path d="M107.34,356.1L120.4,362.21" stroke="#f8f8e4" stroke-width="0.55" stroke-linecap="round" opacity="0.96"/>
<path d="M64.98,352L72.32,356.53" stroke="#f8f8e4" stroke-width="0.83" stroke-linecap="round" opacity="0.6"/>
<path d="M117.78,354.04L123.87,356.61" stroke="#dcefe9" stroke-width="0.6" stroke-linecap="round" opacity="0.85"/>
<path d="M78.26,340.95L83.91,343.52" stroke="#f8f8e4" stroke-width="0.84" stroke-linecap="round" opacity="0.91"/>
<path d="M56.06,350.59L63.67,355.61" stroke="#f8f8e4" stroke-width="0.84" stroke-linecap="round" opacity="0.63"/>
<path d="M85.81,345.06L94.41,349.01" stroke="#dcefe9" stroke-width="0.65" stroke-linecap="round" opacity="0.76"/>
<path d="M75.12,348.23L95.78,359.18" stroke="#dcefe9" stroke-width="0.55" stroke-linecap="round" opacity="0.82"/>
<path d="M96.69,342.1L101.51,344.04" stroke="#f8f8e4" stroke-width="0.52" stroke-linecap="round" opacity="0.78"/>
<path d="M101.52,346.35L118.21,353.32" stroke="#f8f8e4" stroke-width="0.75" stroke-linecap="round" opacity="0.77"/>
<path d="M88.12,351.73L106.09,360.77" stroke="#dcefe9" stroke-width="0.88" stroke-linecap="round" opacity="0.77"/>
<path d="M58.67,354.08L65.73,358.87" stroke="#e9efc0" stroke-width="0.53" stroke-linecap="round" opacity="0.77"/>
<path d="M111.03,360.39L126.06,367.67" stroke="#dcefe9" stroke-width="0.89" stroke-linecap="round" opacity="0.82"/>
<path d="M91.83,335.68L105.27,340.62" stroke="#e9efc0" stroke-width="0.76" stroke-linecap="round" opacity="0.95"/>
<path d="M112.69,345.85L132.91,353.61" stroke="#e9efc0" stroke-width="0.71" stroke-linecap="round" opacity="0.92"/>
<path d="M100.79,343.73L108.76,346.93" stroke="#dcefe9" stroke-width="0.52" stroke-linecap="round" opacity="0.64"/>
<path d="M95.47,372.3L105.55,378.63" stroke="#f8f8e4" stroke-width="0.64" stroke-linecap="round" opacity="0.94"/>
<path d="M55.43,351.43L65.12,357.94" stroke="#e9efc0" stroke-width="0.88" stroke-linecap="round" opacity="0.83"/>
<path d="M88.65,336.44L100.43,340.95" stroke="#e9efc0" stroke-width="0.71" stroke-linecap="round" opacity="0.7"/>
<path d="M79.65,340.35L90.8,345.3" stroke="#e9efc0" stroke-width="0.63" stroke-linecap="round" opacity="0.83"/>
<path d="M94.96,338.01L100.92,340.25" stroke="#f8f8e4" stroke-width="0.68" stroke-linecap="round" opacity="0.88"/>
<path d="M99.12,336.4L111.98,340.95" stroke="#dcefe9" stroke-width="0.72" stroke-linecap="round" opacity="0.99"/>
<path d="M77.2,346.11L96.28,355.69" stroke="#e9efc0" stroke-width="0.89" stroke-linecap="round" opacity="0.77"/>
<path d="M100.28,348.94L124.42,359.56" stroke="#e9efc0" stroke-width="0.69" stroke-linecap="round" opacity="0.86"/>
<path d="M93.74,335.66L98.14,337.26" stroke="#e9efc0" stroke-width="0.69" stroke-linecap="round" opacity="0.88"/>
<path d="M113.72,341.33L135.21,348.89" stroke="#f8f8e4" stroke-width="0.61" stroke-linecap="round" opacity="0.68"/>
<path d="M89.1,343.4L96.27,346.52" stroke="#e9efc0" stroke-width="0.72" stroke-linecap="round" opacity="0.91"/>
<path d="M118.85,352.74L134.69,359.27" stroke="#e9efc0" stroke-width="0.73" stroke-linecap="round" opacity="0.71"/>
<path d="M64.89,346.76L71.59,350.56" stroke="#dcefe9" stroke-width="0.58" stroke-linecap="round" opacity="0.83"/>
<path d="M81.23,354.85L102.79,366.87" stroke="#dcefe9" stroke-width="0.9" stroke-linecap="round" opacity="0.79"/>
<path d="M96.21,345.99L116.37,354.69" stroke="#e9efc0" stroke-width="0.72" stroke-linecap="round" opacity="0.79"/>
<path d="M120.61,351.52L135.16,357.35" stroke="#e9efc0" stroke-width="0.85" stroke-linecap="round" opacity="0.62"/>
<path d="M128.52,347.81L141.62,352.52" stroke="#e9efc0" stroke-width="0.53" stroke-linecap="round" opacity="0.69"/>
<path d="M104.04,366.59L118.82,374.73" stroke="#f8f8e4" stroke-width="0.57" stroke-linecap="round" opacity="0.88"/>
<path d="M127.5,349.19L138.46,353.24" stroke="#f8f8e4" stroke-width="0.63" stroke-linecap="round" opacity="0.77"/>
<path d="M86.2,337.51L89.91,338.98" stroke="#dcefe9" stroke-width="0.51" stroke-linecap="round" opacity="0.78"/>
<path d="M95.51,341.05L99.37,342.58" stroke="#dcefe9" stroke-width="0.67" stroke-linecap="round" opacity="0.79"/>
<polygon points="53.5,351.7 105.6,387.6 105.6,388.9 53.5,353" fill="#c8e5ef"/>
<polygon points="105.6,387.6 143.9,350.3 143.9,351.6 105.6,388.9" fill="#c8e5ef"/>
<circle cx="91.41" cy="344.74" r="0.45" fill="#5f7f9f"/>
<circle cx="96.87" cy="348.58" r="0.45" fill="#5a88b0"/>
<circle cx="101.18" cy="374.38" r="0.45" fill="#5f7f9f"/>
<path d="M43.2,289L52.2,357.1" stroke="#7c7c7c" stroke-width="0.9"/>
<path d="M52.2,357.1L105.6,390.4" stroke="#8a8a8a" stroke-width="0.6" fill="none"/>
<path d="M105.6,390.4L145.3,353.2" stroke="#7a7a7a" stroke-width="0.7" fill="none"/>
<text x="36.6" y="290.1" font-family="Liberation Sans, DejaVu Sans, sans-serif" font-size="2.86" fill="#666" text-anchor="middle">0</text>
<text x="38" y="310.1" font-family="Liberation Sans, DejaVu Sans, sans-serif" font-size="2.86" fill="#666" text-anchor="middle">−200</text>
<text x="40" y="328.3" font-family="Liberation Sans, DejaVu Sans, sans-serif" font-size="2.86" fill="#666" text-anchor="middle">−400</text>
<text x="43.2" y="345.1" font-family="Liberation Sans, DejaVu Sans, sans-serif" font-size="2.86" fill="#666" text-anchor="middle">−600</text>
<text x="44.8" y="360.90000000000003" font-family="Liberation Sans, DejaVu Sans, sans-serif" font-size="2.86" fill="#666" text-anchor="middle">−698</text>
<text x="24.7" y="331.8" font-family="Liberation Sans, DejaVu Sans, sans-serif" font-size="3.82" fill="#666" text-anchor="middle">Depth(nm)</text>
<text x="55.1" y="366.5" font-family="Liberation Sans, DejaVu Sans, sans-serif" font-size="2.86" fill="#666" text-anchor="middle">1</text>
<text x="64" y="372.3" font-family="Liberation Sans, DejaVu Sans, sans-serif" font-size="2.86" fill="#666" text-anchor="middle">2</text>
<text x="74.2" y="378.8" font-family="Liberation Sans, DejaVu Sans, sans-serif" font-size="2.86" fill="#666" text-anchor="middle">3</text>
<text x="86.6" y="386.70000000000005" font-family="Liberation Sans, DejaVu Sans, sans-serif" font-size="2.86" fill="#666" text-anchor="middle">4</text>
<text x="122.8" y="384.8" font-family="Liberation Sans, DejaVu Sans, sans-serif" font-size="2.86" fill="#666" text-anchor="middle">1</text>
<text x="131.4" y="376.20000000000005" font-family="Liberation Sans, DejaVu Sans, sans-serif" font-size="2.86" fill="#666" text-anchor="middle">2</text>
<text x="138.6" y="367.70000000000005" font-family="Liberation Sans, DejaVu Sans, sans-serif" font-size="2.86" fill="#666" text-anchor="middle">3</text>
<text x="145.3" y="361.1" font-family="Liberation Sans, DejaVu Sans, sans-serif" font-size="2.86" fill="#666" text-anchor="middle">4</text>
<text x="150.6" y="354.90000000000003" font-family="Liberation Sans, DejaVu Sans, sans-serif" font-size="2.86" fill="#666" text-anchor="middle">5</text>
<text x="56.8" y="381.3" font-family="Liberation Sans, DejaVu Sans, sans-serif" font-size="3.82" fill="#666" text-anchor="middle">X(nm)</text>
<text x="148.2" y="375.9" font-family="Liberation Sans, DejaVu Sans, sans-serif" font-size="3.82" fill="#666" text-anchor="middle">Y(nm)</text>
<defs><linearGradient id="cbge" x1="0" y1="0" x2="0" y2="1"><stop offset="0" stop-color="#fbc57e"/><stop offset="0.15" stop-color="#fdd98f"/><stop offset="0.45" stop-color="#fbf3b0"/><stop offset="0.7" stop-color="#d4ecf2"/><stop offset="1" stop-color="#b3dbe9"/></linearGradient></defs>
<rect x="165.2" y="298.8" width="10.3" height="26.5" fill="url(#cbge)"/>
<rect x="164.4" y="295.3" width="11.9" height="2.9" rx="1.3" fill="#f4aa5e"/>
<rect x="164.4" y="325.8" width="11.9" height="2.6" rx="1.2" fill="#8cc4da"/>
<text x="179.8" y="299.0" font-family="Liberation Serif, Times New Roman, serif" font-size="7.5" fill="#1a1a1a" textLength="14.2" lengthAdjust="spacingAndGlyphs">1 kPa</text>
<text x="179.8" y="330.0" font-family="Liberation Serif, Times New Roman, serif" font-size="7.3" fill="#1a1a1a">0</text>
<text x="7.2" y="406.7" font-family="Liberation Serif, Times New Roman, serif" font-weight="bold" font-size="7.6" letter-spacing="0.15" fill="#1a1a1a">(g)</text>
<path d="M48.1,434.5L56.3,499.4 M60.96,433.45L66.68,494.58 M72.11,432.53L75.88,490.31 M81.85,431.73L84.09,486.5 M90.46,431.03L91.45,483.09 M98.1,430.4L98.1,480 M48.1,434.5L98.1,430.4 M49.97,449.3L98.1,441.31 M51.87,464.3L98.1,452.6 M53.56,477.7L98.1,462.9 M55.05,489.5L98.1,472.13 M56.3,499.4L98.1,480 M98.1,430.4L98.1,480 M106.69,430.9L105.65,482.49 M116.13,431.46L113.85,485.19 M126.55,432.07L122.78,488.14 M138.11,432.74L132.56,491.36 M151,433.5L143.3,494.9 M98.1,430.4L151,433.5 M98.1,441.24L149.27,447.27 M98.1,452.5L147.51,461.36 M98.1,462.8L145.91,474.07 M98.1,472.07L144.5,485.36 M98.1,480L143.3,494.9" stroke="#d9d9d9" stroke-width="0.6" fill="none"/>
<polygon points="56.3,499.4 107.3,531.2 108.38,530.11 57.42,498.88" fill="#f4f5dc"/>
<polygon points="57.19,498.99 108.16,530.33 109.22,529.26 58.3,498.47" fill="#e6f3f3"/>
<polygon points="58.08,498.58 109.01,529.48 110.06,528.42 59.17,498.07" fill="#f4f5dc"/>
<polygon points="58.95,498.17 109.84,528.63 110.87,527.6 60.03,497.67" fill="#e6f3f3"/>
<polygon points="59.81,497.77 110.66,527.81 111.67,526.79 60.88,497.27" fill="#e6f3f3"/>
<polygon points="60.67,497.37 111.47,526.99 112.46,525.99 61.72,496.88" fill="#daedf0"/>
<polygon points="61.51,496.98 112.26,526.19 113.24,525.21 62.55,496.5" fill="#daeeef"/>
<polygon points="62.34,496.6 113.04,525.41 114.01,524.44 63.38,496.12" fill="#dbeeef"/>
<polygon points="63.17,496.21 113.81,524.63 114.76,523.68 64.19,495.74" fill="#dbeeee"/>
<polygon points="63.98,495.83 114.57,523.87 115.5,522.93 64.99,495.36" fill="#f4f5dc"/>
<polygon points="64.79,495.46 115.31,523.12 116.23,522.19 65.79,495" fill="#dceeed"/>
<polygon points="65.59,495.09 116.05,522.38 116.95,521.47 66.58,494.63" fill="#f4f5dc"/>
<polygon points="66.38,494.72 116.77,521.65 117.66,520.76 67.35,494.27" fill="#e6f3f3"/>
<polygon points="67.15,494.36 117.48,520.94 118.35,520.05 68.12,493.91" fill="#e6f3f3"/>
<polygon points="67.93,494 118.18,520.23 119.04,519.36 68.88,493.56" fill="#f4f5dc"/>
<polygon points="68.69,493.65 118.86,519.54 119.72,518.68 69.64,493.21" fill="#deeeea"/>
<polygon points="69.44,493.3 119.54,518.85 120.38,518.01 70.38,492.86" fill="#deeeea"/>
<polygon points="70.19,492.95 120.21,518.18 121.04,517.35 71.12,492.52" fill="#deeee9"/>
<polygon points="70.93,492.61 120.87,517.52 121.68,516.7 71.85,492.18" fill="#dfeee9"/>
<polygon points="71.66,492.27 121.52,516.86 122.32,516.05 72.57,491.85" fill="#e6f3f3"/>
<polygon points="72.39,491.93 122.16,516.22 122.95,515.42 73.28,491.52" fill="#f4f5dc"/>
<polygon points="73.1,491.6 122.79,515.58 123.57,514.8 73.99,491.19" fill="#e0efe7"/>
<polygon points="73.81,491.27 123.41,514.96 124.18,514.18 74.69,490.87" fill="#e0efe6"/>
<polygon points="74.51,490.95 124.02,514.34 124.78,513.58 75.38,490.54" fill="#e0efe6"/>
<polygon points="75.2,490.63 124.62,513.73 125.37,512.98 76.07,490.23" fill="#e1efe5"/>
<polygon points="75.89,490.31 125.22,513.13 125.95,512.39 76.74,489.91" fill="#e6f3f3"/>
<polygon points="76.57,489.99 125.81,512.54 126.53,511.81 77.42,489.6" fill="#e2efe4"/>
<polygon points="77.24,489.68 126.38,511.96 127.1,511.24 78.08,489.29" fill="#e2efe4"/>
<polygon points="77.91,489.37 126.95,511.38 127.66,510.67 78.74,488.99" fill="#e2efe3"/>
<polygon points="78.57,489.06 127.52,510.81 128.21,510.11 79.39,488.68" fill="#e6f3f3"/>
<polygon points="79.22,488.76 128.07,510.25 128.76,509.56 80.03,488.39" fill="#e3efe2"/>
<polygon points="79.87,488.46 128.62,509.7 129.3,509.02 80.67,488.09" fill="#e6f3f3"/>
<polygon points="80.51,488.16 129.16,509.16 129.83,508.48 81.3,487.8" fill="#e4f0e1"/>
<polygon points="81.14,487.87 129.69,508.62 130.35,507.95 81.93,487.51" fill="#e4f0e0"/>
<polygon points="81.77,487.58 130.22,508.09 130.87,507.43 82.55,487.22" fill="#e4f0e0"/>
<polygon points="82.39,487.29 130.74,507.57 131.38,506.92 83.16,486.93" fill="#f4f5dc"/>
<polygon points="83.01,487.01 131.25,507.05 131.89,506.41 83.77,486.65" fill="#e5f0de"/>
<polygon points="83.62,486.72 131.76,506.54 132.38,505.91 84.37,486.37" fill="#e5f0de"/>
<polygon points="84.22,486.44 132.26,506.04 132.87,505.41 84.97,486.09" fill="#e6f0dd"/>
<polygon points="84.82,486.17 132.75,505.54 133.36,504.92 85.56,485.82" fill="#e6f0dd"/>
<polygon points="85.41,485.89 133.24,505.05 133.84,504.44 86.14,485.55" fill="#e7f0dc"/>
<polygon points="86,485.62 133.72,504.56 134.31,503.96 86.72,485.28" fill="#e7f0dc"/>
<polygon points="86.58,485.35 134.19,504.09 134.78,503.49 87.3,485.01" fill="#e7f0db"/>
<polygon points="87.15,485.08 134.66,503.61 135.24,503.03 87.87,484.75" fill="#e8f0db"/>
<polygon points="87.72,484.82 135.12,503.15 135.69,502.57 88.43,484.49" fill="#b9cdd2"/>
<polygon points="88.29,484.55 135.58,502.69 136.14,502.12 88.99,484.23" fill="#e8f1d9"/>
<polygon points="88.85,484.3 136.03,502.23 136.59,501.67 89.54,483.97" fill="#e6f3f3"/>
<polygon points="89.4,484.04 136.47,501.78 137.03,501.23 90.09,483.72" fill="#e6f3f3"/>
<polygon points="89.95,483.78 136.91,501.34 137.46,500.79 90.63,483.47" fill="#e9f1d8"/>
<polygon points="90.49,483.53 137.35,500.9 137.89,500.36 91.17,483.22" fill="#f4f5dc"/>
<polygon points="91.03,483.28 137.78,500.47 138.31,499.93 91.7,482.97" fill="#eaf1d7"/>
<polygon points="91.57,483.03 138.2,500.04 138.73,499.51 92.23,482.72" fill="#ebf1d6"/>
<polygon points="92.1,482.79 138.62,499.61 139.14,499.09 92.76,482.48" fill="#f4f5dc"/>
<polygon points="92.62,482.54 139.04,499.2 139.55,498.68 93.27,482.24" fill="#ebf1d5"/>
<polygon points="93.14,482.3 139.45,498.78 139.96,498.27 93.79,482" fill="#e6f3f3"/>
<polygon points="93.66,482.06 139.85,498.37 140.36,497.87 94.3,481.76" fill="#ecf1d4"/>
<polygon points="94.17,481.82 140.25,497.97 140.75,497.47 94.8,481.53" fill="#f4f5dc"/>
<polygon points="94.68,481.59 140.65,497.57 141.14,497.08 95.31,481.3" fill="#edf1d3"/>
<polygon points="95.18,481.36 141.04,497.18 141.53,496.69 95.8,481.07" fill="#f4f5dc"/>
<polygon points="95.68,481.13 141.43,496.79 141.91,496.3 96.29,480.84" fill="#f4f5dc"/>
<polygon points="96.17,480.9 141.81,496.4 142.29,495.92 96.78,480.61" fill="#eef2d1"/>
<polygon points="96.66,480.67 142.19,496.02 142.66,495.55 97.27,480.39" fill="#f4f5dc"/>
<polygon points="97.14,480.44 142.56,495.64 143.03,495.17 97.75,480.16" fill="#eef2d0"/>
<polygon points="97.62,480.22 142.93,495.27 143.3,494.9 98.1,480" fill="#eff2cf"/>
<path d="M61.9,496.8L66.56,499.47" stroke="#e8eecb" stroke-width="0.75" stroke-linecap="round" opacity="0.69"/>
<path d="M76.08,492.91L86.17,497.77" stroke="#f6f7e4" stroke-width="0.64" stroke-linecap="round" opacity="0.63"/>
<path d="M103.81,482.79L117.5,487.38" stroke="#e2f2f4" stroke-width="0.51" stroke-linecap="round" opacity="0.72"/>
<path d="M125.05,489.86L137.18,493.92" stroke="#e8eecb" stroke-width="0.77" stroke-linecap="round" opacity="0.63"/>
<path d="M120.68,500.32L131.87,504.82" stroke="#e2f2f4" stroke-width="0.65" stroke-linecap="round" opacity="0.98"/>
<path d="M73.25,491.54L73.46,491.64" stroke="#f6f7e4" stroke-width="0.65" stroke-linecap="round" opacity="0.92"/>
<path d="M116.48,486.13L127.81,489.87" stroke="#f6f7e4" stroke-width="0.67" stroke-linecap="round" opacity="0.68"/>
<path d="M59.64,497.85L63.2,499.96" stroke="#e8eecb" stroke-width="0.89" stroke-linecap="round" opacity="0.84"/>
<path d="M102.14,495.6L112.03,499.75" stroke="#f6f7e4" stroke-width="0.55" stroke-linecap="round" opacity="0.81"/>
<path d="M102.65,487.78L123.55,495.49" stroke="#e2f2f4" stroke-width="0.58" stroke-linecap="round" opacity="0.78"/>
<path d="M84.59,490.23L94.6,494.57" stroke="#e8eecb" stroke-width="0.86" stroke-linecap="round" opacity="0.93"/>
<path d="M80.45,488.19L84.36,489.88" stroke="#f6f7e4" stroke-width="0.71" stroke-linecap="round" opacity="0.91"/>
<path d="M83.12,492.54L91.45,496.33" stroke="#e2f2f4" stroke-width="0.73" stroke-linecap="round" opacity="1"/>
<path d="M113.17,506.92L125.68,512.66" stroke="#e8eecb" stroke-width="0.8" stroke-linecap="round" opacity="0.8"/>
<path d="M65.54,499.35L83.06,509.44" stroke="#f6f7e4" stroke-width="0.63" stroke-linecap="round" opacity="0.86"/>
<path d="M113.77,491.04L133.73,498.31" stroke="#e8eecb" stroke-width="0.59" stroke-linecap="round" opacity="0.92"/>
<path d="M100.68,486.23L110.2,489.69" stroke="#e2f2f4" stroke-width="0.53" stroke-linecap="round" opacity="0.99"/>
<path d="M119.84,488.24L124.43,489.78" stroke="#e8eecb" stroke-width="0.55" stroke-linecap="round" opacity="0.99"/>
<path d="M86.98,485.16L90.73,486.63" stroke="#e8eecb" stroke-width="0.69" stroke-linecap="round" opacity="0.79"/>
<path d="M87.79,495.24L105.64,503.43" stroke="#f6f7e4" stroke-width="0.87" stroke-linecap="round" opacity="0.61"/>
<path d="M94.78,482L109.6,487.19" stroke="#e2f2f4" stroke-width="0.85" stroke-linecap="round" opacity="0.82"/>
<path d="M97.96,483.05L111.16,487.67" stroke="#e2f2f4" stroke-width="0.83" stroke-linecap="round" opacity="0.82"/>
<path d="M127.13,496.44L137.86,500.38" stroke="#f6f7e4" stroke-width="0.51" stroke-linecap="round" opacity="0.84"/>
<path d="M114.43,503.31L128.78,509.55" stroke="#f6f7e4" stroke-width="0.52" stroke-linecap="round" opacity="0.63"/>
<path d="M129.3,494L140.05,497.76" stroke="#e2f2f4" stroke-width="0.83" stroke-linecap="round" opacity="0.63"/>
<path d="M93.13,491.93L110.41,499.19" stroke="#e2f2f4" stroke-width="0.66" stroke-linecap="round" opacity="0.9"/>
<path d="M104.94,486.16L109.51,487.77" stroke="#e8eecb" stroke-width="0.82" stroke-linecap="round" opacity="0.75"/>
<path d="M109.99,483.93L125.18,488.94" stroke="#e2f2f4" stroke-width="0.53" stroke-linecap="round" opacity="0.95"/>
<path d="M74.48,498.61L92.34,508.09" stroke="#e2f2f4" stroke-width="0.55" stroke-linecap="round" opacity="0.82"/>
<path d="M77.35,491.77L91.39,498.35" stroke="#e2f2f4" stroke-width="0.7" stroke-linecap="round" opacity="0.74"/>
<path d="M118.61,502.7L130.57,507.73" stroke="#f6f7e4" stroke-width="0.76" stroke-linecap="round" opacity="0.65"/>
<path d="M93.11,513.98L112.3,524.87" stroke="#e8eecb" stroke-width="0.53" stroke-linecap="round" opacity="0.7"/>
<path d="M102.93,485.68L118.97,491.37" stroke="#e8eecb" stroke-width="0.5" stroke-linecap="round" opacity="0.62"/>
<path d="M112.66,487.35L133.08,494.39" stroke="#e8eecb" stroke-width="0.62" stroke-linecap="round" opacity="0.95"/>
<path d="M111.99,490.8L124.04,495.22" stroke="#f6f7e4" stroke-width="0.6" stroke-linecap="round" opacity="0.84"/>
<path d="M106.56,483.15L116.55,486.47" stroke="#e8eecb" stroke-width="0.56" stroke-linecap="round" opacity="0.92"/>
<path d="M103.27,515.09L116.31,522.11" stroke="#e8eecb" stroke-width="0.82" stroke-linecap="round" opacity="0.87"/>
<path d="M94.44,481.7L105.65,485.61" stroke="#f6f7e4" stroke-width="0.63" stroke-linecap="round" opacity="0.75"/>
<path d="M102,514.6L116.17,522.25" stroke="#e8eecb" stroke-width="0.88" stroke-linecap="round" opacity="0.93"/>
<path d="M121.9,493.95L138.32,499.92" stroke="#f6f7e4" stroke-width="0.57" stroke-linecap="round" opacity="0.99"/>
<path d="M127.76,501.36L134.33,503.94" stroke="#f6f7e4" stroke-width="0.57" stroke-linecap="round" opacity="0.79"/>
<path d="M98.97,483.2L114.2,488.5" stroke="#e8eecb" stroke-width="0.62" stroke-linecap="round" opacity="0.97"/>
<path d="M97.3,499.49L119.98,509.88" stroke="#e8eecb" stroke-width="0.59" stroke-linecap="round" opacity="0.75"/>
<path d="M107.2,490.37L120.49,495.35" stroke="#e2f2f4" stroke-width="0.86" stroke-linecap="round" opacity="0.76"/>
<path d="M108.33,504.81L119.24,509.83" stroke="#e2f2f4" stroke-width="0.74" stroke-linecap="round" opacity="0.7"/>
<path d="M108.68,486.26L121.69,490.77" stroke="#e2f2f4" stroke-width="0.66" stroke-linecap="round" opacity="0.76"/>
<path d="M74.49,508.76L87.14,516.46" stroke="#e8eecb" stroke-width="0.87" stroke-linecap="round" opacity="0.84"/>
<path d="M72.37,491.94L78.65,495.01" stroke="#f6f7e4" stroke-width="0.76" stroke-linecap="round" opacity="0.79"/>
<path d="M84.6,486.27L100.01,492.52" stroke="#f6f7e4" stroke-width="0.62" stroke-linecap="round" opacity="0.98"/>
<path d="M96.05,512.11L115.65,522.78" stroke="#e8eecb" stroke-width="0.79" stroke-linecap="round" opacity="0.82"/>
<polygon points="56.3,499.4 107.3,531.2 107.3,532.5 56.3,500.7" fill="#cde8f1"/>
<polygon points="107.3,531.2 143.3,494.9 143.3,496.2 107.3,532.5" fill="#cde8f1"/>
<circle cx="74.73" cy="494.99" r="0.45" fill="#5a88b0"/>
<path d="M48.1,434.5L56.3,499.4" stroke="#7c7c7c" stroke-width="0.9"/>
<path d="M56.3,500.7L107.3,532.5" stroke="#a8b4b8" stroke-width="0.6" fill="none"/>
<path d="M107.3,532.5L143.3,496.2" stroke="#7a7a7a" stroke-width="0.7" fill="none"/>
<text x="42.2" y="435.70000000000005" font-family="Liberation Sans, DejaVu Sans, sans-serif" font-size="2.69" fill="#666" text-anchor="middle">0</text>
<text x="42.8" y="450.90000000000003" font-family="Liberation Sans, DejaVu Sans, sans-serif" font-size="2.69" fill="#666" text-anchor="middle">−200</text>
<text x="43.6" y="465.90000000000003" font-family="Liberation Sans, DejaVu Sans, sans-serif" font-size="2.69" fill="#666" text-anchor="middle">−400</text>
<text x="45.4" y="479.3" font-family="Liberation Sans, DejaVu Sans, sans-serif" font-size="2.69" fill="#666" text-anchor="middle">−600</text>
<text x="47.5" y="491.1" font-family="Liberation Sans, DejaVu Sans, sans-serif" font-size="2.69" fill="#666" text-anchor="middle">−800</text>
<text x="49" y="503.0" font-family="Liberation Sans, DejaVu Sans, sans-serif" font-size="2.69" fill="#666" text-anchor="middle">−1,008</text>
<text x="30.3" y="474.5" font-family="Liberation Sans, DejaVu Sans, sans-serif" font-size="3.59" fill="#666" text-anchor="middle">Depth(nm)</text>
<text x="58.8" y="507.70000000000005" font-family="Liberation Sans, DejaVu Sans, sans-serif" font-size="2.69" fill="#666" text-anchor="middle">1</text>
<text x="67.4" y="513.9" font-family="Liberation Sans, DejaVu Sans, sans-serif" font-size="2.69" fill="#666" text-anchor="middle">2</text>
<text x="77.3" y="520.1" font-family="Liberation Sans, DejaVu Sans, sans-serif" font-size="2.69" fill="#666" text-anchor="middle">3</text>
<text x="88.6" y="527.7" font-family="Liberation Sans, DejaVu Sans, sans-serif" font-size="2.69" fill="#666" text-anchor="middle">4</text>
<text x="123" y="524.8000000000001" font-family="Liberation Sans, DejaVu Sans, sans-serif" font-size="2.69" fill="#666" text-anchor="middle">1</text>
<text x="130.5" y="516.1" font-family="Liberation Sans, DejaVu Sans, sans-serif" font-size="2.69" fill="#666" text-anchor="middle">2</text>
<text x="137" y="509.1" font-family="Liberation Sans, DejaVu Sans, sans-serif" font-size="2.69" fill="#666" text-anchor="middle">3</text>
<text x="142.5" y="502.6" font-family="Liberation Sans, DejaVu Sans, sans-serif" font-size="2.69" fill="#666" text-anchor="middle">4</text>
<text x="147.5" y="497.1" font-family="Liberation Sans, DejaVu Sans, sans-serif" font-size="2.69" fill="#666" text-anchor="middle">5</text>
<text x="59.8" y="521.9" font-family="Liberation Sans, DejaVu Sans, sans-serif" font-size="3.59" fill="#666" text-anchor="middle">X(nm)</text>
<text x="146.2" y="516.2" font-family="Liberation Sans, DejaVu Sans, sans-serif" font-size="3.59" fill="#666" text-anchor="middle">Y(nm)</text>
<defs><linearGradient id="cbgg" x1="0" y1="0" x2="0" y2="1"><stop offset="0" stop-color="#fbc57e"/><stop offset="0.15" stop-color="#fdd98f"/><stop offset="0.45" stop-color="#fbf3b0"/><stop offset="0.7" stop-color="#d4ecf2"/><stop offset="1" stop-color="#b3dbe9"/></linearGradient></defs>
<rect x="165.6" y="444.7" width="10.3" height="26.8" fill="url(#cbgg)"/>
<rect x="164.8" y="441.2" width="11.9" height="2.9" rx="1.3" fill="#f4aa5e"/>
<rect x="164.8" y="472" width="11.9" height="2.6" rx="1.2" fill="#8cc4da"/>
<text x="179.8" y="445.09999999999997" font-family="Liberation Serif, Times New Roman, serif" font-size="7.5" fill="#1a1a1a" textLength="14.2" lengthAdjust="spacingAndGlyphs">1 kPa</text>
<text x="179.8" y="476.2" font-family="Liberation Serif, Times New Roman, serif" font-size="7.3" fill="#1a1a1a">0</text>
<text x="214" y="18.3" font-family="Liberation Serif, Times New Roman, serif" font-weight="bold" font-size="7.6" letter-spacing="0.15" fill="#1a1a1a">(b)</text>
<text x="246.2" y="20.3" font-family="Liberation Serif, Times New Roman, serif" font-size="7.3" fill="#1a1a1a" textLength="39.2" lengthAdjust="spacingAndGlyphs">Probability (%)</text>
<path d="M240,81H360M240,63H360M240,45H360M240,27H360M300.7,27V99M360,27V99" stroke="#e2e2e2" stroke-width="0.7" fill="none"/>
<text x="235.4" y="101.1" font-family="Liberation Serif, Times New Roman, serif" font-size="6.8" fill="#1a1a1a" text-anchor="end">0</text>
<text x="235.4" y="83.1" font-family="Liberation Serif, Times New Roman, serif" font-size="6.8" fill="#1a1a1a" text-anchor="end">1</text>
<text x="235.4" y="65.1" font-family="Liberation Serif, Times New Roman, serif" font-size="6.8" fill="#1a1a1a" text-anchor="end">2</text>
<text x="235.4" y="47.1" font-family="Liberation Serif, Times New Roman, serif" font-size="6.8" fill="#1a1a1a" text-anchor="end">3</text>
<text x="235.4" y="29.1" font-family="Liberation Serif, Times New Roman, serif" font-size="6.8" fill="#1a1a1a" text-anchor="end">4</text>
<path d="M240.2,99V98.62H241.78V99ZM242.13,99V98.41H243.71V99ZM244.06,99V98.21H245.64V99ZM245.99,99V97.91H247.57V99ZM247.92,99V97.52H249.5V99ZM249.85,99V97.34H251.43V99ZM251.78,99V97.99H253.36V99ZM253.71,99V97.15H255.29V99ZM255.64,99V95.95H257.22V99ZM257.57,99V94.23H259.15V99ZM259.5,99V90H261.08V99ZM261.43,99V83.32H263.01V99ZM263.36,99V75.76H264.94V99ZM265.29,99V66.01H266.87V99ZM267.22,99V56.26H268.8V99ZM269.15,99V47.96H270.73V99ZM271.08,99V40.22H272.66V99ZM273.01,99V28.95H274.59V99ZM274.94,99V35.66H276.52V99ZM276.87,99V50.04H278.45V99ZM278.8,99V63.21H280.38V99ZM280.73,99V70.22H282.31V99ZM282.66,99V80.37H284.24V99ZM284.59,99V87.29H286.17V99ZM286.52,99V92.95H288.1V99ZM288.45,99V95.49H290.03V99ZM290.38,99V96.9H291.96V99ZM292.31,99V97.58H293.89V99ZM294.24,99V97.73H295.82V99ZM296.17,99V97.88H297.75V99ZM298.1,99V98.03H299.68V99ZM300.03,99V98.11H301.61V99ZM301.96,99V98.14H303.54V99ZM303.89,99V98.16H305.47V99ZM305.82,99V98.18H307.4V99ZM307.75,99V98.2H309.33V99ZM309.68,99V98.23H311.26V99ZM311.61,99V98.25H313.19V99ZM313.54,99V98.27H315.12V99ZM315.47,99V98.3H317.05V99ZM317.4,99V98.32H318.98V99ZM319.33,99V98.34H320.91V99ZM321.26,99V98.37H322.84V99ZM323.19,99V98.39H324.77V99ZM325.12,99V98.41H326.7V99ZM327.05,99V98.44H328.63V99ZM328.98,99V98.46H330.56V99ZM330.91,99V98.48H332.49V99ZM332.84,99V98.51H334.42V99ZM334.77,99V98.53H336.35V99ZM336.7,99V98.55H338.28V99ZM338.63,99V98.58H340.21V99ZM340.56,99V98.6H342.14V99ZM342.49,99V98.62H344.07V99ZM344.42,99V98.67H346V99ZM346.35,99V98.81H347.93V99Z" fill="#4462b8"/>
<path d="M240,27V99" stroke="#aaa" stroke-width="1.1" fill="none"/>
<path d="M240,99H360" stroke="#999" stroke-width="0.7" fill="none"/>
<polyline points="245,99 245.36,99 245.71,99 246.07,98.99 246.43,98.99 246.78,98.99 247.14,98.99 247.49,98.98 247.85,98.98 248.21,98.98 248.56,98.97 248.92,98.96 249.28,98.96 249.63,98.95 249.99,98.93 250.34,98.92 250.7,98.9 251.06,98.88 251.41,98.85 251.77,98.82 252.12,98.79 252.48,98.74 252.84,98.69 253.19,98.63 253.55,98.56 253.91,98.48 254.26,98.39 254.62,98.28 254.97,98.15 255.33,98 255.69,97.83 256.04,97.64 256.4,97.42 256.76,97.17 257.11,96.89 257.47,96.57 257.82,96.21 258.18,95.8 258.54,95.35 258.89,94.85 259.25,94.3 259.61,93.68 259.96,93 260.32,92.26 260.68,91.45 261.03,90.56 261.39,89.6 261.74,88.56 262.1,87.45 262.46,86.25 262.81,84.96 263.17,83.6 263.52,82.15 263.88,80.62 264.24,79.01 264.59,77.33 264.95,75.58 265.31,73.76 265.66,71.88 266.02,69.95 266.38,67.97 266.73,65.96 267.09,63.93 267.44,61.88 267.8,59.83 268.16,57.79 268.51,55.77 268.87,53.79 269.23,51.86 269.58,50 269.94,48.21 270.29,46.52 270.65,44.94 271.01,43.47 271.36,42.14 271.72,40.95 272.07,39.91 272.43,39.03 272.79,38.32 273.14,37.79 273.5,37.44 273.86,37.28 274.21,37.29 274.57,37.5 274.93,37.88 275.28,38.45 275.64,39.19 275.99,40.1 276.35,41.17 276.71,42.39 277.06,43.75 277.42,45.24 277.77,46.84 278.13,48.55 278.49,50.35 278.84,52.23 279.2,54.17 279.56,56.16 279.91,58.18 280.27,60.22 280.62,62.27 280.98,64.32 281.34,66.35 281.69,68.36 282.05,70.32 282.41,72.25 282.76,74.11 283.12,75.92 283.48,77.66 283.83,79.33 284.19,80.92 284.54,82.43 284.9,83.87 285.26,85.22 285.61,86.48 285.97,87.67 286.32,88.77 286.68,89.79 287.04,90.74 287.39,91.61 287.75,92.41 288.11,93.14 288.46,93.81 288.82,94.41 289.18,94.95 289.53,95.45 289.89,95.89 290.24,96.28 290.6,96.63 290.96,96.94 291.31,97.22 291.67,97.47 292.02,97.68 292.38,97.87 292.74,98.03 293.09,98.17 293.45,98.3 293.81,98.41 294.16,98.5 294.52,98.58 294.88,98.64 295.23,98.7 295.59,98.75 295.94,98.79 296.3,98.83 296.66,98.86 297.01,98.88 297.37,98.9 297.73,98.92 298.08,98.94 298.44,98.95 298.79,98.96 299.15,98.97 299.51,98.97 299.86,98.98 300.22,98.98 300.57,98.99 300.93,98.99 301.29,98.99 301.64,98.99 302,98.99" fill="none" stroke="#dc3535" stroke-width="1.2" stroke-dasharray="2.6 0.7"/>
<text x="240" y="107.6" font-family="Liberation Serif, Times New Roman, serif" font-size="6.8" fill="#1a1a1a" text-anchor="middle">0</text>
<text x="301" y="107.6" font-family="Liberation Serif, Times New Roman, serif" font-size="6.8" fill="#1a1a1a" text-anchor="middle">1</text>
<text x="360.5" y="107.6" font-family="Liberation Serif, Times New Roman, serif" font-size="6.8" fill="#1a1a1a" text-anchor="middle">2</text>
<text x="261.6" y="117" font-family="Liberation Serif, Times New Roman, serif" font-size="7.4" fill="#1a1a1a" textLength="83.3" lengthAdjust="spacingAndGlyphs">Average Young’s modulus (kPa)</text>
<text x="216" y="143.6" font-family="Liberation Serif, Times New Roman, serif" font-weight="bold" font-size="7.6" letter-spacing="0.15" fill="#1a1a1a">(d)</text>
<text x="248.5" y="150.6" font-family="Liberation Serif, Times New Roman, serif" font-size="7.3" fill="#1a1a1a" textLength="39.2" lengthAdjust="spacingAndGlyphs">Probability (%)</text>
<path d="M240,211.9H364M240,193.8H364M240,175.7H364M240,157.6H364M281,157.6V230M322.6,157.6V230" stroke="#e2e2e2" stroke-width="0.7" fill="none"/>
<text x="235.4" y="232.1" font-family="Liberation Serif, Times New Roman, serif" font-size="6.8" fill="#1a1a1a" text-anchor="end">0</text>
<text x="235.4" y="214" font-family="Liberation Serif, Times New Roman, serif" font-size="6.8" fill="#1a1a1a" text-anchor="end">2</text>
<text x="235.4" y="195.9" font-family="Liberation Serif, Times New Roman, serif" font-size="6.8" fill="#1a1a1a" text-anchor="end">4</text>
<text x="235.4" y="177.8" font-family="Liberation Serif, Times New Roman, serif" font-size="6.8" fill="#1a1a1a" text-anchor="end">6</text>
<text x="235.4" y="159.7" font-family="Liberation Serif, Times New Roman, serif" font-size="6.8" fill="#1a1a1a" text-anchor="end">8</text>
<path d="M241,230V229.55H242.7V230ZM243.05,230V229.54H244.75V230ZM245.1,230V229.31H246.8V230ZM247.15,230V229.07H248.85V230ZM249.2,230V228.81H250.9V230ZM251.25,230V228.08H252.95V230ZM253.3,230V226.23H255V230ZM255.35,230V222.75H257.05V230ZM257.4,230V221.36H259.1V230ZM259.45,230V221H261.15V230ZM261.5,230V223.65H263.2V230ZM263.55,230V222.84H265.25V230ZM265.6,230V220.52H267.3V230ZM267.65,230V215.59H269.35V230ZM269.7,230V208.37H271.4V230ZM271.75,230V198.91H273.45V230ZM273.8,230V185.26H275.5V230ZM275.85,230V173.89H277.55V230ZM277.9,230V173.49H279.6V230ZM279.95,230V169.86H281.65V230ZM282,230V173.07H283.7V230ZM284.05,230V179.75H285.75V230ZM286.1,230V181.87H287.8V230ZM288.15,230V185.07H289.85V230ZM290.2,230V200.49H291.9V230ZM292.25,230V206.5H293.95V230ZM294.3,230V207.38H296V230ZM296.35,230V209.54H298.05V230ZM298.4,230V212.24H300.1V230ZM300.45,230V214.9H302.15V230ZM302.5,230V217.62H304.2V230ZM304.55,230V219.5H306.25V230ZM306.6,230V220.95H308.3V230ZM308.65,230V223.25H310.35V230ZM310.7,230V226.71H312.4V230ZM312.75,230V227.24H314.45V230ZM314.8,230V228H316.5V230ZM316.85,230V228.51H318.55V230ZM318.9,230V228.8H320.6V230ZM320.95,230V229.05H322.65V230ZM323,230V229.32H324.7V230ZM325.05,230V229.48H326.75V230ZM327.1,230V229.51H328.8V230ZM329.15,230V229.55H330.85V230ZM331.2,230V229.59H332.9V230ZM333.25,230V229.62H334.95V230ZM335.3,230V229.73H337V230ZM337.35,230V229.88H339.05V230Z" fill="#4462b8"/>
<path d="M240,157.6V230" stroke="#e2e2e2" stroke-width="0.7" fill="none"/>
<path d="M240,230H364" stroke="#999" stroke-width="0.7" fill="none"/>
<polyline points="241,230 241.52,230 242.04,230 242.56,229.99 243.07,229.99 243.59,229.99 244.11,229.99 244.63,229.99 245.15,229.98 245.67,229.98 246.19,229.97 246.71,229.97 247.22,229.96 247.74,229.95 248.26,229.94 248.78,229.92 249.3,229.91 249.82,229.88 250.34,229.86 250.86,229.83 251.38,229.8 251.89,229.75 252.41,229.7 252.93,229.65 253.45,229.58 253.97,229.5 254.49,229.4 255.01,229.3 255.53,229.17 256.04,229.03 256.56,228.86 257.08,228.67 257.6,228.45 258.12,228.2 258.64,227.92 259.16,227.6 259.68,227.25 260.19,226.85 260.71,226.4 261.23,225.9 261.75,225.34 262.27,224.73 262.79,224.06 263.31,223.32 263.82,222.51 264.34,221.63 264.86,220.68 265.38,219.65 265.9,218.54 266.42,217.35 266.94,216.08 267.46,214.74 267.98,213.31 268.49,211.81 269.01,210.23 269.53,208.59 270.05,206.88 270.57,205.11 271.09,203.29 271.61,201.43 272.12,199.53 272.64,197.6 273.16,195.66 273.68,193.72 274.2,191.78 274.72,189.87 275.24,187.99 275.76,186.16 276.27,184.4 276.79,182.71 277.31,181.11 277.83,179.61 278.35,178.23 278.87,176.98 279.39,175.86 279.91,174.89 280.43,174.08 280.94,173.44 281.46,172.96 281.98,172.66 282.5,172.54 283.02,172.59 283.54,172.82 284.06,173.23 284.57,173.81 285.09,174.56 285.61,175.47 286.13,176.53 286.65,177.73 287.17,179.07 287.69,180.52 288.21,182.08 288.73,183.74 289.24,185.48 289.76,187.28 290.28,189.14 290.8,191.04 291.32,192.97 291.84,194.91 292.36,196.85 292.88,198.79 293.39,200.7 293.91,202.58 294.43,204.42 294.95,206.2 295.47,207.94 295.99,209.61 296.51,211.21 297.02,212.74 297.54,214.2 298.06,215.57 298.58,216.87 299.1,218.09 299.62,219.23 300.14,220.29 300.66,221.27 301.18,222.18 301.69,223.02 302.21,223.78 302.73,224.48 303.25,225.12 303.77,225.69 304.29,226.21 304.81,226.68 305.32,227.1 305.84,227.47 306.36,227.8 306.88,228.1 307.4,228.36 307.92,228.59 308.44,228.79 308.96,228.96 309.48,229.12 309.99,229.25 310.51,229.36 311.03,229.46 311.55,229.55 312.07,229.62 312.59,229.68 313.11,229.74 313.62,229.78 314.14,229.82 314.66,229.85 315.18,229.88 315.7,229.9 316.22,229.92 316.74,229.93 317.26,229.94 317.77,229.96 318.29,229.96 318.81,229.97 319.33,229.98 319.85,229.98 320.37,229.98 320.89,229.99 321.41,229.99 321.93,229.99 322.44,229.99 322.96,230 323.48,230 324,230" fill="none" stroke="#dc3535" stroke-width="1.2" stroke-dasharray="2.6 0.7"/>
<text x="243" y="239.1" font-family="Liberation Serif, Times New Roman, serif" font-size="6.8" fill="#1a1a1a" text-anchor="middle">0.2</text>
<text x="284" y="239.1" font-family="Liberation Serif, Times New Roman, serif" font-size="6.8" fill="#1a1a1a" text-anchor="middle">0.4</text>
<text x="327" y="239.1" font-family="Liberation Serif, Times New Roman, serif" font-size="6.8" fill="#1a1a1a" text-anchor="middle">0.6</text>
<text x="257.5" y="253.4" font-family="Liberation Serif, Times New Roman, serif" font-size="7.4" fill="#1a1a1a" textLength="83.3" lengthAdjust="spacingAndGlyphs">Average Young’s modulus (kPa)</text>
<text x="211" y="273.2" font-family="Liberation Serif, Times New Roman, serif" font-weight="bold" font-size="7.6" letter-spacing="0.15" fill="#1a1a1a">(f)</text>
<text x="247.7" y="286.3" font-family="Liberation Serif, Times New Roman, serif" font-size="7.3" fill="#1a1a1a" textLength="39.2" lengthAdjust="spacingAndGlyphs">Probability (%)</text>
<path d="M238.6,354.83H367M238.6,341.67H367M238.6,328.5H367M238.6,315.33H367M238.6,302.17H367M238.6,289H367M270.5,289V368M336.6,289V368" stroke="#e2e2e2" stroke-width="0.7" fill="none"/>
<text x="232.2" y="370.1" font-family="Liberation Serif, Times New Roman, serif" font-size="6.8" fill="#1a1a1a" text-anchor="end">0</text>
<text x="232.2" y="356.93" font-family="Liberation Serif, Times New Roman, serif" font-size="6.8" fill="#1a1a1a" text-anchor="end">2</text>
<text x="232.2" y="343.77" font-family="Liberation Serif, Times New Roman, serif" font-size="6.8" fill="#1a1a1a" text-anchor="end">4</text>
<text x="232.2" y="330.6" font-family="Liberation Serif, Times New Roman, serif" font-size="6.8" fill="#1a1a1a" text-anchor="end">6</text>
<text x="232.2" y="317.43" font-family="Liberation Serif, Times New Roman, serif" font-size="6.8" fill="#1a1a1a" text-anchor="end">8</text>
<text x="232.2" y="304.27" font-family="Liberation Serif, Times New Roman, serif" font-size="6.8" fill="#1a1a1a" text-anchor="end">10</text>
<text x="232.2" y="291.1" font-family="Liberation Serif, Times New Roman, serif" font-size="6.8" fill="#1a1a1a" text-anchor="end">12</text>
<path d="M242.9,368V367.79H244.2V368ZM244.55,368V367.76H245.85V368ZM246.2,368V367.73H247.5V368ZM247.85,368V367.7H249.15V368ZM249.5,368V367.65H250.8V368ZM251.15,368V367.54H252.45V368ZM252.8,368V367.43H254.1V368ZM254.45,368V367.31H255.75V368ZM256.1,368V367.11H257.4V368ZM257.75,368V366.91H259.05V368ZM259.4,368V366.75H260.7V368ZM261.05,368V365.98H262.35V368ZM262.7,368V364.59H264V368ZM264.35,368V362.56H265.65V368ZM266,368V360.06H267.3V368ZM267.65,368V358.84H268.95V368ZM269.3,368V358.64H270.6V368ZM270.95,368V357.76H272.25V368ZM272.6,368V360.5H273.9V368ZM274.25,368V359.5H275.55V368ZM275.9,368V357.99H277.2V368ZM277.55,368V357.47H278.85V368ZM279.2,368V354.51H280.5V368ZM280.85,368V352.36H282.15V368ZM282.5,368V349.25H283.8V368ZM284.15,368V344.38H285.45V368ZM285.8,368V340.52H287.1V368ZM287.45,368V334.25H288.75V368ZM289.1,368V328.75H290.4V368ZM290.75,368V324.54H292.05V368ZM292.4,368V314.48H293.7V368ZM294.05,368V312.75H295.35V368ZM295.7,368V304.23H297V368ZM297.35,368V298.3H298.65V368ZM299,368V305.5H300.3V368ZM300.65,368V307.89H301.95V368ZM302.3,368V303.86H303.6V368ZM303.95,368V303.89H305.25V368ZM305.6,368V299.41H306.9V368ZM307.25,368V306.35H308.55V368ZM308.9,368V311.37H310.2V368ZM310.55,368V315.65H311.85V368ZM312.2,368V322.67H313.5V368ZM313.85,368V328.7H315.15V368ZM315.5,368V333.19H316.8V368ZM317.15,368V338.3H318.45V368ZM318.8,368V340.24H320.1V368ZM320.45,368V346.07H321.75V368ZM322.1,368V349.87H323.4V368ZM323.75,368V354.41H325.05V368ZM325.4,368V357.21H326.7V368ZM327.05,368V358.22H328.35V368ZM328.7,368V359.45H330V368ZM330.35,368V361.88H331.65V368ZM332,368V362.79H333.3V368ZM333.65,368V363.65H334.95V368ZM335.3,368V363.72H336.6V368ZM336.95,368V365.62H338.25V368ZM338.6,368V366.16H339.9V368ZM340.25,368V366.7H341.55V368ZM341.9,368V366.97H343.2V368ZM343.55,368V367.24H344.85V368ZM345.2,368V367.21H346.5V368ZM346.85,368V366.99H348.15V368ZM348.5,368V366.77H349.8V368ZM350.15,368V367.07H351.45V368ZM351.8,368V367.44H353.1V368ZM353.45,368V367.36H354.75V368ZM355.1,368V367.27H356.4V368ZM356.75,368V367.19H358.05V368ZM358.4,368V367.1H359.7V368ZM360.05,368V367.02H361.35V368ZM361.7,368V367.31H363V368ZM363.35,368V367.64H364.65V368Z" fill="#4462b8"/>
<path d="M238.6,289V368" stroke="#e2e2e2" stroke-width="0.7" fill="none"/>
<path d="M238.6,368H367" stroke="#999" stroke-width="0.7" fill="none"/>
<polyline points="252,367.99 252.63,367.99 253.26,367.98 253.88,367.98 254.51,367.98 255.14,367.97 255.77,367.96 256.4,367.96 257.02,367.95 257.65,367.93 258.28,367.92 258.91,367.9 259.54,367.88 260.17,367.86 260.79,367.83 261.42,367.8 262.05,367.76 262.68,367.72 263.31,367.66 263.93,367.6 264.56,367.53 265.19,367.45 265.82,367.35 266.45,367.24 267.07,367.11 267.7,366.96 268.33,366.8 268.96,366.61 269.59,366.39 270.22,366.15 270.84,365.87 271.47,365.56 272.1,365.21 272.73,364.82 273.36,364.39 273.98,363.91 274.61,363.38 275.24,362.79 275.87,362.15 276.5,361.44 277.12,360.67 277.75,359.83 278.38,358.92 279.01,357.94 279.64,356.88 280.27,355.74 280.89,354.52 281.52,353.22 282.15,351.84 282.78,350.38 283.41,348.84 284.03,347.23 284.66,345.53 285.29,343.77 285.92,341.94 286.55,340.05 287.18,338.1 287.8,336.11 288.43,334.07 289.06,332 289.69,329.92 290.32,327.82 290.94,325.72 291.57,323.63 292.2,321.57 292.83,319.55 293.46,317.57 294.08,315.66 294.71,313.83 295.34,312.08 295.97,310.43 296.6,308.9 297.23,307.5 297.85,306.23 298.48,305.1 299.11,304.14 299.74,303.33 300.37,302.69 300.99,302.23 301.62,301.94 302.25,301.84 302.88,301.91 303.51,302.17 304.13,302.61 304.76,303.22 305.39,304 306.02,304.94 306.65,306.04 307.27,307.29 307.9,308.67 308.53,310.18 309.16,311.81 309.79,313.54 310.42,315.36 311.04,317.26 311.67,319.23 312.3,321.25 312.93,323.3 313.56,325.39 314.18,327.48 314.81,329.58 315.44,331.67 316.07,333.74 316.7,335.79 317.32,337.79 317.95,339.74 318.58,341.64 319.21,343.48 319.84,345.26 320.47,346.96 321.09,348.59 321.72,350.14 322.35,351.62 322.98,353.01 323.61,354.32 324.23,355.55 324.86,356.7 325.49,357.78 326.12,358.77 326.75,359.69 327.38,360.54 328,361.33 328.63,362.04 329.26,362.7 329.89,363.29 330.52,363.83 331.14,364.32 331.77,364.76 332.4,365.15 333.03,365.51 333.66,365.82 334.28,366.1 334.91,366.35 335.54,366.57 336.17,366.77 336.8,366.94 337.43,367.09 338.05,367.22 338.68,367.33 339.31,367.43 339.94,367.52 340.57,367.59 341.19,367.65 341.82,367.71 342.45,367.75 343.08,367.79 343.71,367.83 344.33,367.86 344.96,367.88 345.59,367.9 346.22,367.92 346.85,367.93 347.48,367.94 348.1,367.95 348.73,367.96 349.36,367.97 349.99,367.98 350.62,367.98 351.24,367.98 351.87,367.99 352.5,367.99" fill="none" stroke="#dc3535" stroke-width="1.2" stroke-dasharray="2.6 0.7"/>
<text x="242.7" y="376.9" font-family="Liberation Serif, Times New Roman, serif" font-size="6.8" fill="#1a1a1a" text-anchor="middle">0.2</text>
<text x="269.5" y="376.9" font-family="Liberation Serif, Times New Roman, serif" font-size="6.8" fill="#1a1a1a" text-anchor="middle">0.3</text>
<text x="298.5" y="376.9" font-family="Liberation Serif, Times New Roman, serif" font-size="6.8" fill="#1a1a1a" text-anchor="middle">0.4</text>
<text x="329.4" y="376.9" font-family="Liberation Serif, Times New Roman, serif" font-size="6.8" fill="#1a1a1a" text-anchor="middle">0.5</text>
<text x="362" y="376.9" font-family="Liberation Serif, Times New Roman, serif" font-size="6.8" fill="#1a1a1a" text-anchor="middle">0.6</text>
<text x="256.6" y="389.3" font-family="Liberation Serif, Times New Roman, serif" font-size="7.4" fill="#1a1a1a" textLength="83.3" lengthAdjust="spacingAndGlyphs">Average Young’s modulus (kPa)</text>
<text x="218" y="411.0" font-family="Liberation Serif, Times New Roman, serif" font-weight="bold" font-size="7.6" letter-spacing="0.15" fill="#1a1a1a">(h)</text>
<text x="240.1" y="429.6" font-family="Liberation Serif, Times New Roman, serif" font-size="7.3" fill="#1a1a1a" textLength="39.2" lengthAdjust="spacingAndGlyphs">Probability (%)</text>
<path d="M236,502.08H374M236,484.66H374M236,467.24H374M236,449.82H374M236,432.4H374M270.6,432.4V519.5M339.6,432.4V519.5" stroke="#e2e2e2" stroke-width="0.7" fill="none"/>
<text x="230.1" y="521.6" font-family="Liberation Serif, Times New Roman, serif" font-size="6.8" fill="#1a1a1a" text-anchor="end">0</text>
<text x="230.1" y="504.18" font-family="Liberation Serif, Times New Roman, serif" font-size="6.8" fill="#1a1a1a" text-anchor="end">3</text>
<text x="230.1" y="486.76" font-family="Liberation Serif, Times New Roman, serif" font-size="6.8" fill="#1a1a1a" text-anchor="end">6</text>
<text x="230.1" y="469.34" font-family="Liberation Serif, Times New Roman, serif" font-size="6.8" fill="#1a1a1a" text-anchor="end">9</text>
<text x="230.1" y="451.92" font-family="Liberation Serif, Times New Roman, serif" font-size="6.8" fill="#1a1a1a" text-anchor="end">12</text>
<text x="230.1" y="434.5" font-family="Liberation Serif, Times New Roman, serif" font-size="6.8" fill="#1a1a1a" text-anchor="end">15</text>
<path d="M237.16,519.5V519.33H238.53V519.5ZM238.88,519.5V519.33H240.26V519.5ZM240.61,519.5V519.33H241.98V519.5ZM242.33,519.5V519.33H243.71V519.5ZM244.06,519.5V519.33H245.43V519.5ZM245.78,519.5V519.33H247.16V519.5ZM247.51,519.5V519.33H248.88V519.5ZM249.23,519.5V519.33H250.61V519.5ZM250.96,519.5V519.31H252.33V519.5ZM252.68,519.5V519.3H254.06V519.5ZM254.41,519.5V519.28H255.78V519.5ZM256.13,519.5V519.27H257.51V519.5ZM257.86,519.5V519.26H259.23V519.5ZM259.58,519.5V519.24H260.96V519.5ZM261.31,519.5V519.23H262.69V519.5ZM263.04,519.5V519.22H264.41V519.5ZM264.76,519.5V519.19H266.14V519.5ZM266.49,519.5V519.12H267.86V519.5ZM268.21,519.5V519.06H269.59V519.5ZM269.94,519.5V519H271.31V519.5ZM271.66,519.5V518.94H273.04V519.5ZM273.39,519.5V518.71H274.76V519.5ZM275.11,519.5V516.21H276.49V519.5ZM276.84,519.5V514.55H278.21V519.5ZM278.56,519.5V513.88H279.94V519.5ZM280.29,519.5V513.28H281.66V519.5ZM282.01,519.5V511.59H283.39V519.5ZM283.74,519.5V509.53H285.11V519.5ZM285.46,519.5V504.53H286.84V519.5ZM287.19,519.5V499.1H288.56V519.5ZM288.91,519.5V496.02H290.29V519.5ZM290.64,519.5V493.76H292.01V519.5ZM292.36,519.5V488.03H293.74V519.5ZM294.09,519.5V485.58H295.46V519.5ZM295.81,519.5V482.02H297.19V519.5ZM297.54,519.5V469.21H298.91V519.5ZM299.26,519.5V455.93H300.64V519.5ZM300.99,519.5V449.71H302.36V519.5ZM302.71,519.5V439.82H304.09V519.5ZM304.44,519.5V434.73H305.81V519.5ZM306.16,519.5V437.4H307.54V519.5ZM307.89,519.5V442.45H309.26V519.5ZM309.61,519.5V448.74H310.99V519.5ZM311.34,519.5V451.29H312.71V519.5ZM313.06,519.5V458.99H314.44V519.5ZM314.79,519.5V465.57H316.16V519.5ZM316.51,519.5V473.08H317.89V519.5ZM318.24,519.5V479.35H319.61V519.5ZM319.96,519.5V488.27H321.34V519.5ZM321.69,519.5V497.86H323.06V519.5ZM323.41,519.5V502.95H324.79V519.5ZM325.14,519.5V507.86H326.51V519.5ZM326.86,519.5V509.91H328.24V519.5ZM328.59,519.5V512.15H329.96V519.5ZM330.31,519.5V515.67H331.69V519.5ZM332.04,519.5V515.21H333.41V519.5ZM333.76,519.5V512.85H335.14V519.5ZM335.49,519.5V514.83H336.86V519.5ZM337.21,519.5V516.6H338.59V519.5ZM338.94,519.5V516.27H340.31V519.5ZM340.66,519.5V516.15H342.04V519.5ZM342.39,519.5V516.98H343.76V519.5ZM344.11,519.5V517.76H345.49V519.5ZM345.84,519.5V518.32H347.21V519.5ZM347.56,519.5V518.63H348.94V519.5ZM349.29,519.5V518.37H350.66V519.5ZM351.01,519.5V519.1H352.39V519.5ZM352.74,519.5V519.22H354.11V519.5ZM354.46,519.5V519.23H355.84V519.5ZM356.19,519.5V519.24H357.56V519.5ZM357.91,519.5V519.25H359.29V519.5ZM359.64,519.5V519.26H361.01V519.5ZM361.36,519.5V519.27H362.74V519.5ZM363.09,519.5V519.28H364.46V519.5ZM364.81,519.5V519.29H366.19V519.5ZM366.54,519.5V519.29H367.91V519.5ZM368.26,519.5V519.3H369.64V519.5ZM369.99,519.5V519.31H371.36V519.5ZM371.71,519.5V519.32H373.09V519.5Z" fill="#4462b8"/>
<path d="M236,432.4V519.5" stroke="#e2e2e2" stroke-width="0.7" fill="none"/>
<path d="M236,519.5H374" stroke="#999" stroke-width="0.7" fill="none"/>
<polyline points="266,519.5 266.5,519.5 266.99,519.49 267.49,519.49 267.99,519.49 268.48,519.49 268.98,519.48 269.48,519.48 269.98,519.48 270.47,519.47 270.97,519.46 271.47,519.45 271.96,519.44 272.46,519.43 272.96,519.41 273.45,519.39 273.95,519.37 274.45,519.34 274.94,519.31 275.44,519.27 275.94,519.23 276.43,519.17 276.93,519.11 277.43,519.03 277.93,518.94 278.42,518.84 278.92,518.72 279.42,518.58 279.91,518.42 280.41,518.23 280.91,518.02 281.4,517.78 281.9,517.5 282.4,517.19 282.89,516.83 283.39,516.43 283.89,515.98 284.38,515.47 284.88,514.91 285.38,514.28 285.88,513.58 286.37,512.81 286.87,511.96 287.37,511.03 287.86,510.02 288.36,508.91 288.86,507.71 289.35,506.41 289.85,505.02 290.35,503.52 290.84,501.92 291.34,500.22 291.84,498.41 292.33,496.51 292.83,494.5 293.33,492.41 293.82,490.22 294.32,487.96 294.82,485.62 295.32,483.21 295.81,480.75 296.31,478.25 296.81,475.71 297.3,473.16 297.8,470.6 298.3,468.06 298.79,465.54 299.29,463.07 299.79,460.67 300.28,458.34 300.78,456.11 301.28,453.99 301.77,452.01 302.27,450.17 302.77,448.5 303.27,447 303.76,445.69 304.26,444.58 304.76,443.68 305.25,442.99 305.75,442.53 306.25,442.3 306.74,442.3 307.24,442.53 307.74,442.98 308.23,443.66 308.73,444.56 309.23,445.67 309.73,446.97 310.22,448.47 310.72,450.14 311.22,451.97 311.71,453.96 312.21,456.07 312.71,458.3 313.2,460.62 313.7,463.03 314.2,465.5 314.69,468.01 315.19,470.55 315.69,473.11 316.18,475.66 316.68,478.2 317.18,480.7 317.68,483.17 318.17,485.57 318.67,487.91 319.17,490.18 319.66,492.37 320.16,494.47 320.66,496.47 321.15,498.38 321.65,500.18 322.15,501.89 322.64,503.49 323.14,504.99 323.64,506.39 324.13,507.69 324.63,508.89 325.13,510 325.62,511.01 326.12,511.95 326.62,512.8 327.12,513.57 327.61,514.26 328.11,514.89 328.61,515.46 329.1,515.97 329.6,516.42 330.1,516.82 330.59,517.18 331.09,517.49 331.59,517.77 332.08,518.02 332.58,518.23 333.08,518.41 333.57,518.58 334.07,518.72 334.57,518.84 335.07,518.94 335.56,519.03 336.06,519.11 336.56,519.17 337.05,519.22 337.55,519.27 338.05,519.31 338.54,519.34 339.04,519.37 339.54,519.39 340.03,519.41 340.53,519.43 341.03,519.44 341.52,519.45 342.02,519.46 342.52,519.47 343.02,519.48 343.51,519.48 344.01,519.48 344.51,519.49 345,519.49 345.5,519.49" fill="none" stroke="#dc3535" stroke-width="1.2" stroke-dasharray="2.6 0.7"/>
<text x="237.8" y="531.1" font-family="Liberation Serif, Times New Roman, serif" font-size="6.8" fill="#1a1a1a" text-anchor="middle">0.2</text>
<text x="269.7" y="531.1" font-family="Liberation Serif, Times New Roman, serif" font-size="6.8" fill="#1a1a1a" text-anchor="middle">0.3</text>
<text x="305.3" y="531.1" font-family="Liberation Serif, Times New Roman, serif" font-size="6.8" fill="#1a1a1a" text-anchor="middle">0.4</text>
<text x="342" y="531.1" font-family="Liberation Serif, Times New Roman, serif" font-size="6.8" fill="#1a1a1a" text-anchor="middle">0.5</text>
<text x="379" y="531.1" font-family="Liberation Serif, Times New Roman, serif" font-size="6.8" fill="#1a1a1a" text-anchor="middle">0.6</text>
<text x="269.0" y="544.6" font-family="Liberation Serif, Times New Roman, serif" font-size="7.4" fill="#1a1a1a" textLength="83.3" lengthAdjust="spacingAndGlyphs">Average Young’s modulus (kPa)</text>
</svg>
</body></html>
